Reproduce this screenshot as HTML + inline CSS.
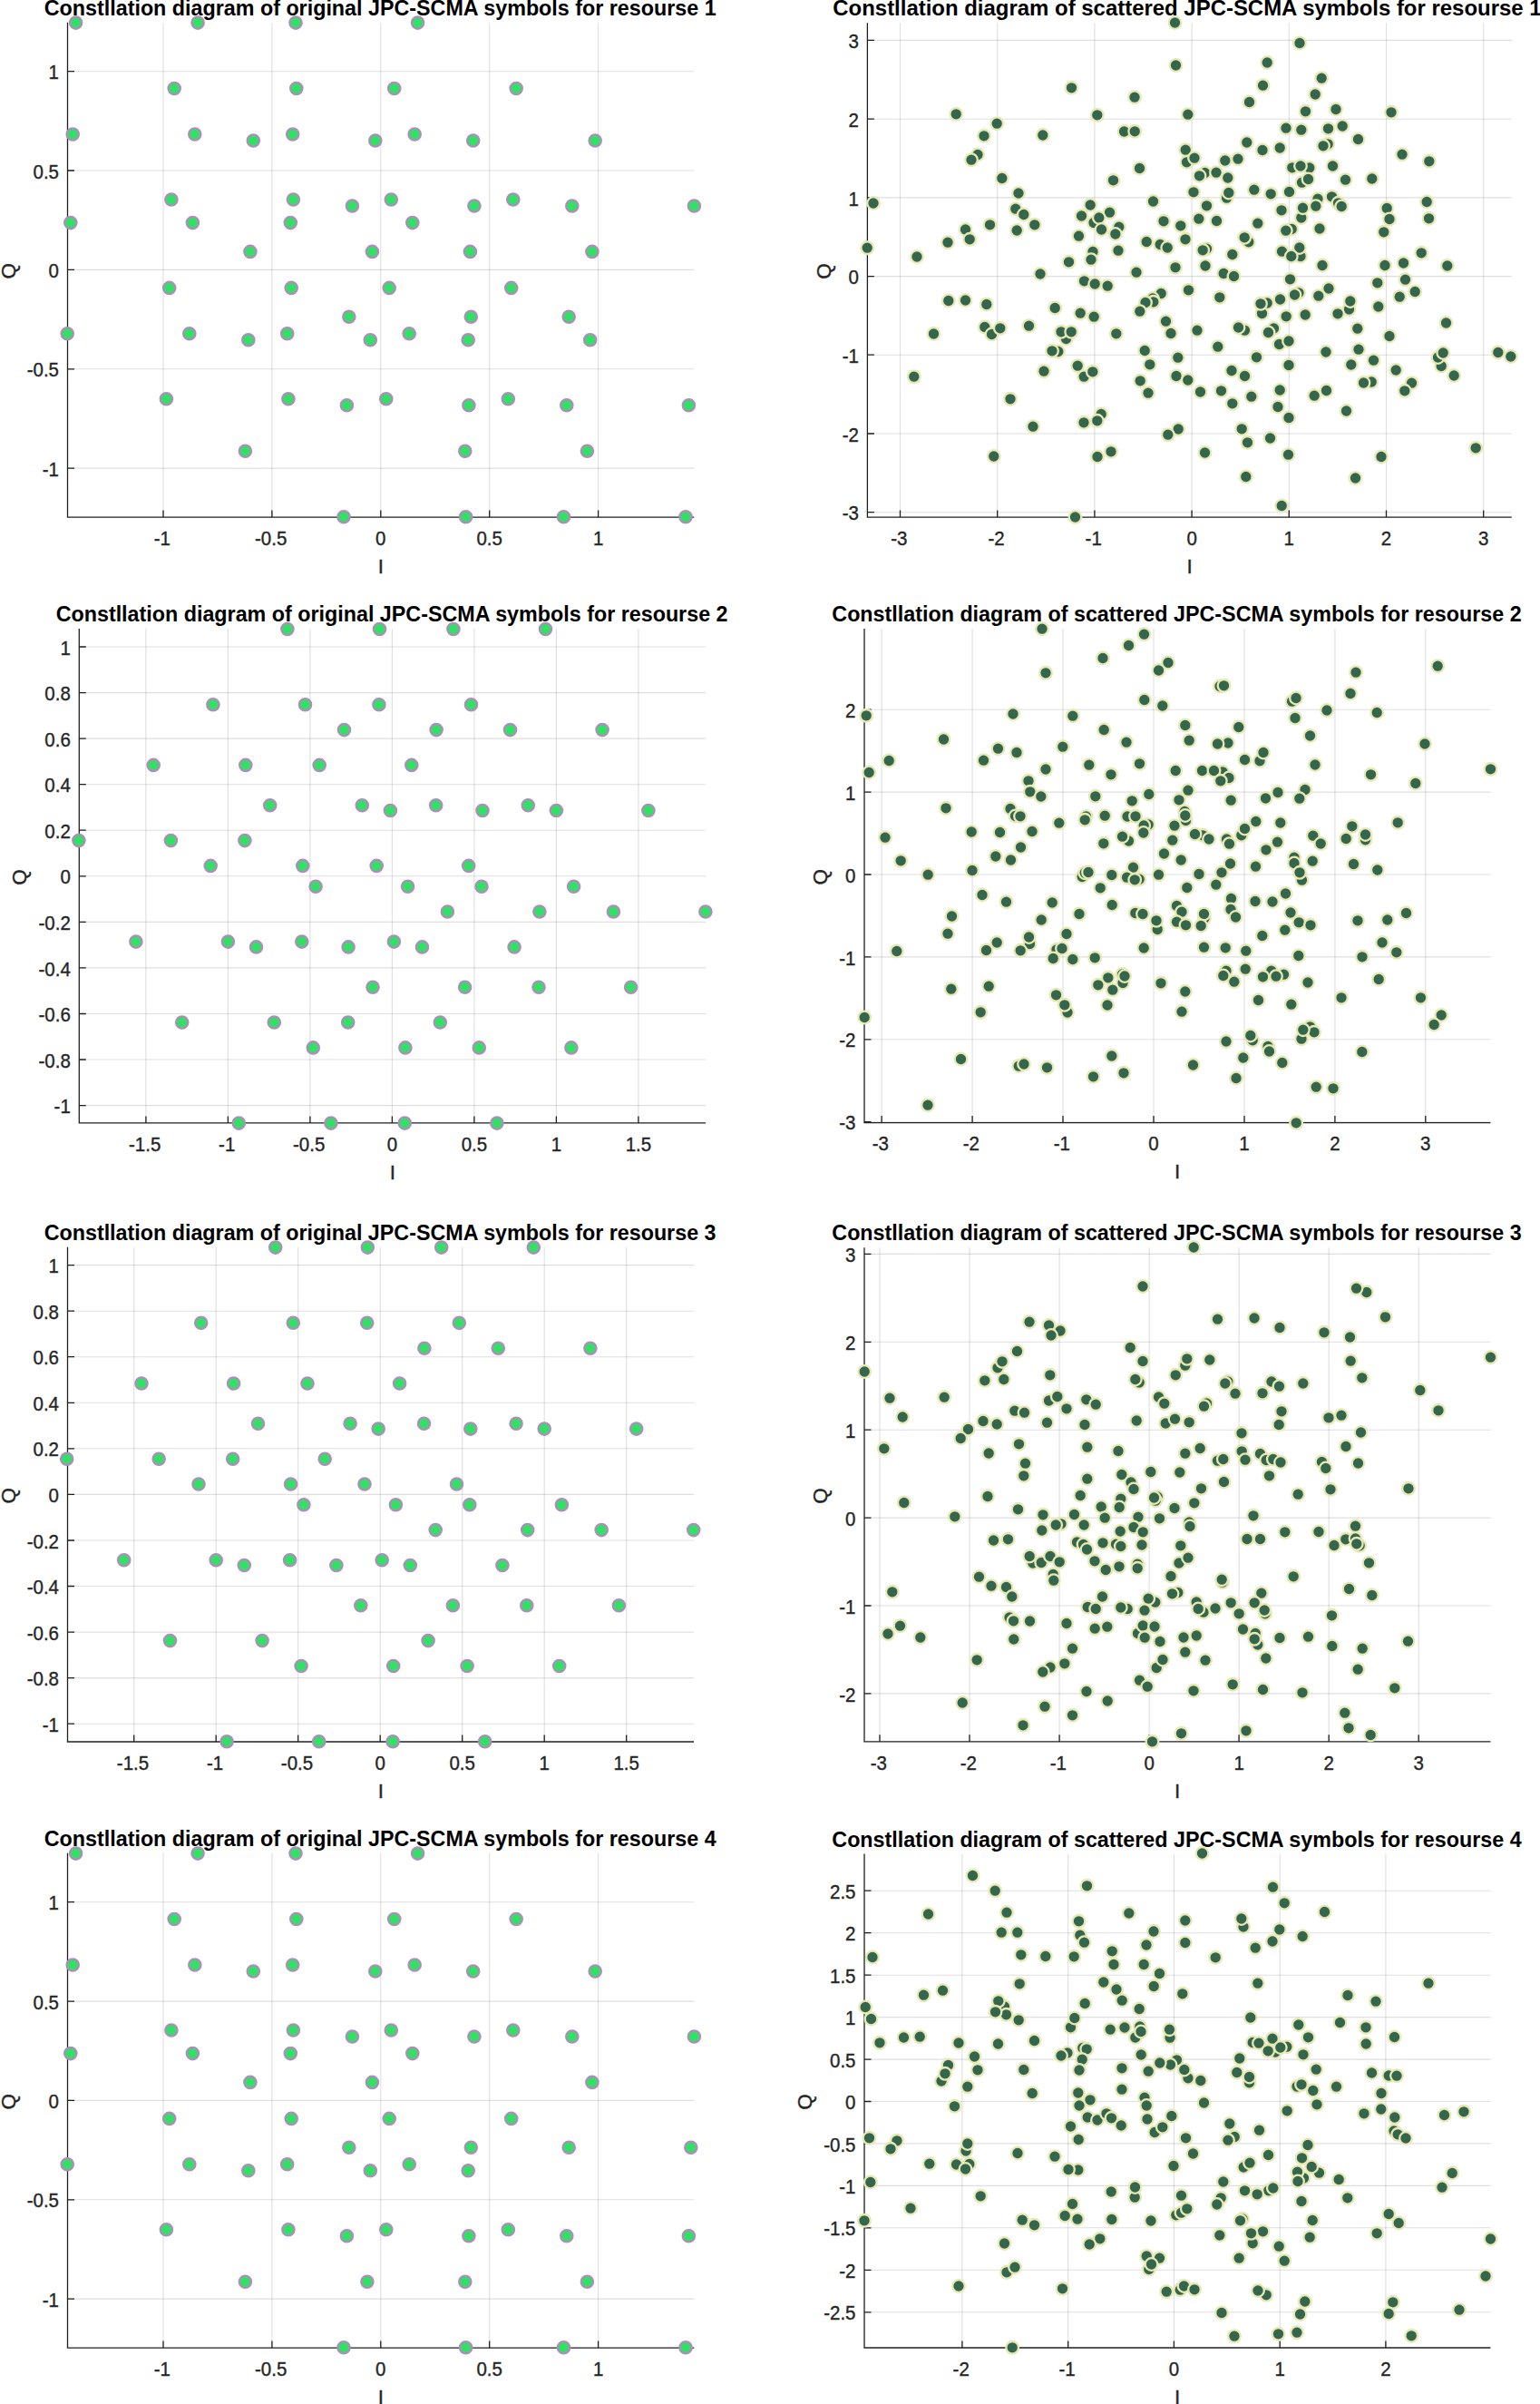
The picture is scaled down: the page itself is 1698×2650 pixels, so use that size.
<!DOCTYPE html>
<html><head><meta charset="utf-8"><title>Constellation diagrams</title>
<style>
html,body{margin:0;padding:0;background:#fff}
svg{display:block}
text{font-family:"Liberation Sans",Arial,Helvetica,sans-serif;fill:#262626}
.tk{font-size:20.5px;stroke:#262626;stroke-width:.35px}
.lb{font-size:22.5px;stroke:#262626;stroke-width:.35px}
.tt{font-size:23.3px;font-weight:bold;fill:#000}
.g{stroke:#262626;stroke-opacity:.15;stroke-width:1.1;fill:none}
.ax{stroke:#202020;stroke-width:1.3;fill:none}
.o circle{fill:#33e066;stroke:#b08cbc;stroke-width:2.3}
.s circle{fill:#33664c;stroke:#e8e8b4;stroke-width:2.3}
</style></head><body>
<svg width="1698" height="2650" viewBox="0 0 1698 2650">
<rect width="1698" height="2650" fill="#fff"/>
<g id="L1">
<path class="g" d="M180.0 24.7V570.1M299.9 24.7V570.1M419.8 24.7V570.1M539.7 24.7V570.1M659.6 24.7V570.1"/><path class="g" d="M74.5 516.1H765.3M74.5 406.8H765.3M74.5 297.4H765.3M74.5 188.0H765.3M74.5 78.7H765.3"/>
<path class="ax" d="M74.5 24.7V570.1H765.3M180.0 570.1v-7.5M299.9 570.1v-7.5M419.8 570.1v-7.5M539.7 570.1v-7.5M659.6 570.1v-7.5M74.5 516.1h7.5M74.5 406.8h7.5M74.5 297.4h7.5M74.5 188.0h7.5M74.5 78.7h7.5"/>
<text class="tk" transform="translate(178.8 600.9) scale(1 1.05)" text-anchor="middle">-1</text>
<text class="tk" transform="translate(298.7 600.9) scale(1 1.05)" text-anchor="middle">-0.5</text>
<text class="tk" transform="translate(419.8 600.9) scale(1 1.05)" text-anchor="middle">0</text>
<text class="tk" transform="translate(539.7 600.9) scale(1 1.05)" text-anchor="middle">0.5</text>
<text class="tk" transform="translate(659.6 600.9) scale(1 1.05)" text-anchor="middle">1</text>
<text class="tk" transform="translate(65.0 524.7) scale(1 1.05)" text-anchor="end">-1</text>
<text class="tk" transform="translate(65.0 415.4) scale(1 1.05)" text-anchor="end">-0.5</text>
<text class="tk" transform="translate(65.0 306.0) scale(1 1.05)" text-anchor="end">0</text>
<text class="tk" transform="translate(65.0 196.6) scale(1 1.05)" text-anchor="end">0.5</text>
<text class="tk" transform="translate(65.0 87.3) scale(1 1.05)" text-anchor="end">1</text>
<text class="lb" x="419.9" y="631.8" text-anchor="middle">I</text>
<text class="lb" transform="translate(16.5 298.8) rotate(-90)" text-anchor="middle">Q</text>
<text class="tt" x="419.2" y="16.9" text-anchor="middle">Constllation diagram of original JPC-SCMA symbols for resourse 1</text>
<g class="o"><circle cx="83.6" cy="25.1" r="6.65"/><circle cx="218.1" cy="25.1" r="6.65"/><circle cx="326.0" cy="25.1" r="6.65"/><circle cx="460.6" cy="25.1" r="6.65"/><circle cx="192.2" cy="97.5" r="6.65"/><circle cx="326.8" cy="97.5" r="6.65"/><circle cx="434.7" cy="97.5" r="6.65"/><circle cx="569.2" cy="97.5" r="6.65"/><circle cx="80.2" cy="148.0" r="6.65"/><circle cx="214.8" cy="148.0" r="6.65"/><circle cx="322.7" cy="148.0" r="6.65"/><circle cx="457.2" cy="148.0" r="6.65"/><circle cx="279.3" cy="155.0" r="6.65"/><circle cx="413.8" cy="155.0" r="6.65"/><circle cx="521.7" cy="155.0" r="6.65"/><circle cx="656.2" cy="155.0" r="6.65"/><circle cx="188.9" cy="220.0" r="6.65"/><circle cx="323.4" cy="220.0" r="6.65"/><circle cx="431.3" cy="220.0" r="6.65"/><circle cx="565.8" cy="220.0" r="6.65"/><circle cx="388.4" cy="227.0" r="6.65"/><circle cx="522.9" cy="227.0" r="6.65"/><circle cx="630.8" cy="227.0" r="6.65"/><circle cx="765.4" cy="227.0" r="6.65"/><circle cx="77.8" cy="245.6" r="6.65"/><circle cx="212.4" cy="245.6" r="6.65"/><circle cx="320.3" cy="245.6" r="6.65"/><circle cx="454.8" cy="245.6" r="6.65"/><circle cx="275.9" cy="277.4" r="6.65"/><circle cx="410.4" cy="277.4" r="6.65"/><circle cx="518.4" cy="277.4" r="6.65"/><circle cx="652.9" cy="277.4" r="6.65"/><circle cx="379.0" cy="569.7" r="6.65"/><circle cx="513.6" cy="569.7" r="6.65"/><circle cx="621.5" cy="569.7" r="6.65"/><circle cx="756.0" cy="569.7" r="6.65"/><circle cx="270.4" cy="497.3" r="6.65"/><circle cx="512.8" cy="497.3" r="6.65"/><circle cx="647.4" cy="497.3" r="6.65"/><circle cx="382.4" cy="446.8" r="6.65"/><circle cx="516.9" cy="446.8" r="6.65"/><circle cx="624.8" cy="446.8" r="6.65"/><circle cx="759.4" cy="446.8" r="6.65"/><circle cx="183.4" cy="439.8" r="6.65"/><circle cx="317.9" cy="439.8" r="6.65"/><circle cx="425.8" cy="439.8" r="6.65"/><circle cx="560.3" cy="439.8" r="6.65"/><circle cx="273.8" cy="374.8" r="6.65"/><circle cx="408.3" cy="374.8" r="6.65"/><circle cx="516.2" cy="374.8" r="6.65"/><circle cx="650.7" cy="374.8" r="6.65"/><circle cx="74.2" cy="367.8" r="6.65"/><circle cx="208.8" cy="367.8" r="6.65"/><circle cx="316.7" cy="367.8" r="6.65"/><circle cx="451.2" cy="367.8" r="6.65"/><circle cx="384.8" cy="349.2" r="6.65"/><circle cx="519.3" cy="349.2" r="6.65"/><circle cx="627.2" cy="349.2" r="6.65"/><circle cx="186.7" cy="317.4" r="6.65"/><circle cx="321.2" cy="317.4" r="6.65"/><circle cx="429.2" cy="317.4" r="6.65"/><circle cx="563.7" cy="317.4" r="6.65"/></g>
</g>
<g id="R1">
<path class="g" d="M992.5 25.3V570.1M1099.7 25.3V570.1M1206.9 25.3V570.1M1314.1 25.3V570.1M1421.3 25.3V570.1M1528.5 25.3V570.1M1635.7 25.3V570.1"/><path class="g" d="M956.4 564.7H1666.8M956.4 478.0H1666.8M956.4 391.2H1666.8M956.4 304.6H1666.8M956.4 217.9H1666.8M956.4 131.2H1666.8M956.4 44.4H1666.8"/>
<path class="ax" d="M956.4 25.3V570.1H1666.8M992.5 570.1v-7.5M1099.7 570.1v-7.5M1206.9 570.1v-7.5M1314.1 570.1v-7.5M1421.3 570.1v-7.5M1528.5 570.1v-7.5M1635.7 570.1v-7.5M956.4 564.7h7.5M956.4 478.0h7.5M956.4 391.2h7.5M956.4 304.6h7.5M956.4 217.9h7.5M956.4 131.2h7.5M956.4 44.4h7.5"/>
<text class="tk" transform="translate(991.3 600.9) scale(1 1.05)" text-anchor="middle">-3</text>
<text class="tk" transform="translate(1098.5 600.9) scale(1 1.05)" text-anchor="middle">-2</text>
<text class="tk" transform="translate(1205.7 600.9) scale(1 1.05)" text-anchor="middle">-1</text>
<text class="tk" transform="translate(1314.1 600.9) scale(1 1.05)" text-anchor="middle">0</text>
<text class="tk" transform="translate(1421.3 600.9) scale(1 1.05)" text-anchor="middle">1</text>
<text class="tk" transform="translate(1528.5 600.9) scale(1 1.05)" text-anchor="middle">2</text>
<text class="tk" transform="translate(1635.7 600.9) scale(1 1.05)" text-anchor="middle">3</text>
<text class="tk" transform="translate(946.9 573.3) scale(1 1.05)" text-anchor="end">-3</text>
<text class="tk" transform="translate(946.9 486.6) scale(1 1.05)" text-anchor="end">-2</text>
<text class="tk" transform="translate(946.9 399.9) scale(1 1.05)" text-anchor="end">-1</text>
<text class="tk" transform="translate(946.9 313.2) scale(1 1.05)" text-anchor="end">0</text>
<text class="tk" transform="translate(946.9 226.5) scale(1 1.05)" text-anchor="end">1</text>
<text class="tk" transform="translate(946.9 139.8) scale(1 1.05)" text-anchor="end">2</text>
<text class="tk" transform="translate(946.9 53.0) scale(1 1.05)" text-anchor="end">3</text>
<text class="lb" x="1311.6" y="631.8" text-anchor="middle">I</text>
<text class="lb" transform="translate(915.5 299.1) rotate(-90)" text-anchor="middle">Q</text>
<text class="tt" style="font-size:23.95px" x="918.3" y="16.7">Constllation diagram of scattered JPC-SCMA symbols for resourse 1</text>
<g class="s"><circle cx="1295.5" cy="25.0" r="6.8"/><circle cx="1296.5" cy="72.0" r="6.8"/><circle cx="1181.5" cy="96.8" r="6.8"/><circle cx="1251.0" cy="107.2" r="6.8"/><circle cx="1054.2" cy="125.8" r="6.8"/><circle cx="1209.8" cy="126.8" r="6.8"/><circle cx="1309.8" cy="126.2" r="6.8"/><circle cx="1099.2" cy="136.2" r="6.8"/><circle cx="1085.0" cy="149.8" r="6.8"/><circle cx="1149.8" cy="149.0" r="6.8"/><circle cx="1239.5" cy="145.0" r="6.8"/><circle cx="1251.2" cy="144.8" r="6.8"/><circle cx="1078.0" cy="170.5" r="6.8"/><circle cx="1071.0" cy="176.2" r="6.8"/><circle cx="1307.2" cy="165.2" r="6.8"/><circle cx="1308.5" cy="178.8" r="6.8"/><circle cx="1256.5" cy="185.5" r="6.8"/><circle cx="1104.8" cy="196.5" r="6.8"/><circle cx="1227.5" cy="198.8" r="6.8"/><circle cx="1123.0" cy="213.0" r="6.8"/><circle cx="963.0" cy="224.0" r="6.8"/><circle cx="1271.5" cy="222.0" r="6.8"/><circle cx="1202.2" cy="226.0" r="6.8"/><circle cx="1119.8" cy="230.2" r="6.8"/><circle cx="1128.8" cy="236.5" r="6.8"/><circle cx="1223.5" cy="234.2" r="6.8"/><circle cx="1192.5" cy="238.0" r="6.8"/><circle cx="1206.0" cy="245.5" r="6.8"/><circle cx="1211.8" cy="240.0" r="6.8"/><circle cx="1283.0" cy="243.8" r="6.8"/><circle cx="1091.5" cy="247.8" r="6.8"/><circle cx="1140.8" cy="247.8" r="6.8"/><circle cx="1301.8" cy="248.8" r="6.8"/><circle cx="1233.8" cy="250.2" r="6.8"/><circle cx="1064.5" cy="253.0" r="6.8"/><circle cx="1121.2" cy="254.0" r="6.8"/><circle cx="1214.5" cy="253.0" r="6.8"/><circle cx="1229.8" cy="258.0" r="6.8"/><circle cx="1189.5" cy="260.2" r="6.8"/><circle cx="1069.2" cy="263.8" r="6.8"/><circle cx="1307.0" cy="263.8" r="6.8"/><circle cx="1045.0" cy="267.2" r="6.8"/><circle cx="1264.2" cy="266.5" r="6.8"/><circle cx="1279.2" cy="269.5" r="6.8"/><circle cx="1287.2" cy="273.0" r="6.8"/><circle cx="956.2" cy="273.2" r="6.8"/><circle cx="1205.0" cy="277.5" r="6.8"/><circle cx="1233.0" cy="276.2" r="6.8"/><circle cx="1011.0" cy="283.0" r="6.8"/><circle cx="1203.0" cy="286.2" r="6.8"/><circle cx="1178.5" cy="288.8" r="6.8"/><circle cx="1433.0" cy="47.5" r="6.8"/><circle cx="1397.2" cy="69.0" r="6.8"/><circle cx="1457.2" cy="86.2" r="6.8"/><circle cx="1392.5" cy="94.2" r="6.8"/><circle cx="1450.2" cy="104.0" r="6.8"/><circle cx="1377.5" cy="112.5" r="6.8"/><circle cx="1473.0" cy="120.5" r="6.8"/><circle cx="1439.5" cy="122.8" r="6.8"/><circle cx="1534.0" cy="123.8" r="6.8"/><circle cx="1418.0" cy="141.2" r="6.8"/><circle cx="1434.8" cy="143.2" r="6.8"/><circle cx="1464.5" cy="141.8" r="6.8"/><circle cx="1480.2" cy="139.0" r="6.8"/><circle cx="1497.5" cy="153.5" r="6.8"/><circle cx="1374.8" cy="157.0" r="6.8"/><circle cx="1464.2" cy="158.8" r="6.8"/><circle cx="1459.0" cy="160.8" r="6.8"/><circle cx="1392.0" cy="165.5" r="6.8"/><circle cx="1411.2" cy="163.0" r="6.8"/><circle cx="1546.0" cy="170.2" r="6.8"/><circle cx="1575.8" cy="177.8" r="6.8"/><circle cx="1317.0" cy="174.2" r="6.8"/><circle cx="1365.0" cy="175.2" r="6.8"/><circle cx="1350.8" cy="177.0" r="6.8"/><circle cx="1469.5" cy="183.0" r="6.8"/><circle cx="1424.8" cy="184.8" r="6.8"/><circle cx="1443.8" cy="185.0" r="6.8"/><circle cx="1434.0" cy="183.0" r="6.8"/><circle cx="1328.5" cy="190.5" r="6.8"/><circle cx="1322.5" cy="193.8" r="6.8"/><circle cx="1341.0" cy="190.2" r="6.8"/><circle cx="1353.8" cy="196.0" r="6.8"/><circle cx="1435.5" cy="201.2" r="6.8"/><circle cx="1442.5" cy="197.5" r="6.8"/><circle cx="1483.5" cy="198.2" r="6.8"/><circle cx="1512.8" cy="197.0" r="6.8"/><circle cx="1316.0" cy="211.8" r="6.8"/><circle cx="1352.5" cy="218.2" r="6.8"/><circle cx="1354.8" cy="212.5" r="6.8"/><circle cx="1382.8" cy="209.2" r="6.8"/><circle cx="1401.2" cy="213.8" r="6.8"/><circle cx="1421.5" cy="211.5" r="6.8"/><circle cx="1453.0" cy="219.2" r="6.8"/><circle cx="1450.8" cy="227.2" r="6.8"/><circle cx="1468.5" cy="216.8" r="6.8"/><circle cx="1475.5" cy="223.8" r="6.8"/><circle cx="1479.2" cy="227.5" r="6.8"/><circle cx="1573.2" cy="222.5" r="6.8"/><circle cx="1330.5" cy="226.8" r="6.8"/><circle cx="1413.0" cy="231.8" r="6.8"/><circle cx="1434.8" cy="240.0" r="6.8"/><circle cx="1436.5" cy="229.2" r="6.8"/><circle cx="1529.2" cy="229.5" r="6.8"/><circle cx="1532.0" cy="241.5" r="6.8"/><circle cx="1575.5" cy="240.8" r="6.8"/><circle cx="1321.8" cy="241.2" r="6.8"/><circle cx="1341.5" cy="243.5" r="6.8"/><circle cx="1386.8" cy="246.2" r="6.8"/><circle cx="1424.2" cy="252.5" r="6.8"/><circle cx="1417.8" cy="254.2" r="6.8"/><circle cx="1455.0" cy="252.0" r="6.8"/><circle cx="1525.8" cy="255.8" r="6.8"/><circle cx="1376.8" cy="266.8" r="6.8"/><circle cx="1372.2" cy="261.8" r="6.8"/><circle cx="1330.5" cy="274.2" r="6.8"/><circle cx="1326.2" cy="275.8" r="6.8"/><circle cx="1358.8" cy="280.5" r="6.8"/><circle cx="1413.5" cy="277.2" r="6.8"/><circle cx="1434.0" cy="282.5" r="6.8"/><circle cx="1432.8" cy="273.0" r="6.8"/><circle cx="1423.8" cy="282.5" r="6.8"/><circle cx="1567.2" cy="278.8" r="6.8"/><circle cx="1147.0" cy="302.0" r="6.8"/><circle cx="1253.0" cy="300.2" r="6.8"/><circle cx="1296.0" cy="294.8" r="6.8"/><circle cx="1195.5" cy="309.8" r="6.8"/><circle cx="1207.2" cy="313.0" r="6.8"/><circle cx="1221.2" cy="315.2" r="6.8"/><circle cx="1280.2" cy="323.5" r="6.8"/><circle cx="1271.0" cy="329.0" r="6.8"/><circle cx="1271.8" cy="332.8" r="6.8"/><circle cx="1263.0" cy="333.5" r="6.8"/><circle cx="1045.8" cy="331.5" r="6.8"/><circle cx="1064.5" cy="331.0" r="6.8"/><circle cx="1087.8" cy="335.5" r="6.8"/><circle cx="1163.2" cy="339.5" r="6.8"/><circle cx="1256.8" cy="343.2" r="6.8"/><circle cx="1191.2" cy="345.2" r="6.8"/><circle cx="1206.2" cy="349.2" r="6.8"/><circle cx="1285.5" cy="354.2" r="6.8"/><circle cx="1134.5" cy="359.2" r="6.8"/><circle cx="1085.8" cy="360.5" r="6.8"/><circle cx="1093.5" cy="368.5" r="6.8"/><circle cx="1102.8" cy="361.8" r="6.8"/><circle cx="1175.5" cy="373.5" r="6.8"/><circle cx="1170.0" cy="365.8" r="6.8"/><circle cx="1181.2" cy="365.8" r="6.8"/><circle cx="1230.8" cy="367.8" r="6.8"/><circle cx="1291.0" cy="367.5" r="6.8"/><circle cx="1029.5" cy="368.0" r="6.8"/><circle cx="1262.2" cy="386.5" r="6.8"/><circle cx="1166.8" cy="387.5" r="6.8"/><circle cx="1160.0" cy="386.8" r="6.8"/><circle cx="1298.8" cy="394.2" r="6.8"/><circle cx="1267.8" cy="401.8" r="6.8"/><circle cx="1188.2" cy="403.2" r="6.8"/><circle cx="1151.0" cy="409.2" r="6.8"/><circle cx="1195.2" cy="415.2" r="6.8"/><circle cx="1204.8" cy="409.8" r="6.8"/><circle cx="1297.0" cy="414.5" r="6.8"/><circle cx="1257.2" cy="419.8" r="6.8"/><circle cx="1007.8" cy="415.2" r="6.8"/><circle cx="1266.0" cy="433.2" r="6.8"/><circle cx="1114.0" cy="439.8" r="6.8"/><circle cx="1214.2" cy="456.5" r="6.8"/><circle cx="1209.8" cy="463.8" r="6.8"/><circle cx="1195.0" cy="465.8" r="6.8"/><circle cx="1139.0" cy="470.2" r="6.8"/><circle cx="1299.2" cy="473.0" r="6.8"/><circle cx="1287.8" cy="479.2" r="6.8"/><circle cx="1225.0" cy="497.8" r="6.8"/><circle cx="1210.0" cy="503.5" r="6.8"/><circle cx="1095.8" cy="503.0" r="6.8"/><circle cx="1185.5" cy="570.0" r="6.8"/><circle cx="1329.0" cy="293.0" r="6.8"/><circle cx="1458.0" cy="292.5" r="6.8"/><circle cx="1527.0" cy="292.5" r="6.8"/><circle cx="1547.5" cy="290.0" r="6.8"/><circle cx="1595.8" cy="293.0" r="6.8"/><circle cx="1349.2" cy="301.5" r="6.8"/><circle cx="1360.5" cy="304.5" r="6.8"/><circle cx="1422.5" cy="307.8" r="6.8"/><circle cx="1518.8" cy="311.8" r="6.8"/><circle cx="1549.5" cy="308.2" r="6.8"/><circle cx="1310.5" cy="319.8" r="6.8"/><circle cx="1465.0" cy="318.0" r="6.8"/><circle cx="1560.2" cy="321.5" r="6.8"/><circle cx="1344.8" cy="327.8" r="6.8"/><circle cx="1432.0" cy="322.8" r="6.8"/><circle cx="1427.5" cy="325.0" r="6.8"/><circle cx="1453.8" cy="326.2" r="6.8"/><circle cx="1543.2" cy="327.2" r="6.8"/><circle cx="1411.5" cy="330.0" r="6.8"/><circle cx="1397.2" cy="334.0" r="6.8"/><circle cx="1391.5" cy="345.5" r="6.8"/><circle cx="1390.0" cy="334.8" r="6.8"/><circle cx="1487.5" cy="341.0" r="6.8"/><circle cx="1488.8" cy="332.0" r="6.8"/><circle cx="1519.8" cy="338.0" r="6.8"/><circle cx="1418.2" cy="348.8" r="6.8"/><circle cx="1439.2" cy="347.0" r="6.8"/><circle cx="1475.0" cy="345.8" r="6.8"/><circle cx="1594.5" cy="356.0" r="6.8"/><circle cx="1320.0" cy="364.2" r="6.8"/><circle cx="1372.5" cy="364.2" r="6.8"/><circle cx="1365.5" cy="361.0" r="6.8"/><circle cx="1404.5" cy="362.0" r="6.8"/><circle cx="1398.5" cy="366.5" r="6.8"/><circle cx="1496.8" cy="362.2" r="6.8"/><circle cx="1532.0" cy="370.5" r="6.8"/><circle cx="1410.5" cy="379.5" r="6.8"/><circle cx="1421.0" cy="376.0" r="6.8"/><circle cx="1342.8" cy="382.2" r="6.8"/><circle cx="1498.0" cy="385.2" r="6.8"/><circle cx="1462.0" cy="388.0" r="6.8"/><circle cx="1385.5" cy="393.8" r="6.8"/><circle cx="1651.8" cy="388.5" r="6.8"/><circle cx="1665.8" cy="393.0" r="6.8"/><circle cx="1589.2" cy="403.5" r="6.8"/><circle cx="1585.5" cy="394.0" r="6.8"/><circle cx="1591.2" cy="389.0" r="6.8"/><circle cx="1514.5" cy="397.2" r="6.8"/><circle cx="1489.8" cy="402.0" r="6.8"/><circle cx="1421.0" cy="402.5" r="6.8"/><circle cx="1358.0" cy="408.5" r="6.8"/><circle cx="1539.2" cy="408.0" r="6.8"/><circle cx="1603.2" cy="414.0" r="6.8"/><circle cx="1372.5" cy="414.5" r="6.8"/><circle cx="1309.8" cy="419.0" r="6.8"/><circle cx="1512.2" cy="421.0" r="6.8"/><circle cx="1503.5" cy="422.0" r="6.8"/><circle cx="1556.5" cy="422.2" r="6.8"/><circle cx="1548.8" cy="430.8" r="6.8"/><circle cx="1411.2" cy="430.0" r="6.8"/><circle cx="1462.5" cy="430.5" r="6.8"/><circle cx="1449.2" cy="436.2" r="6.8"/><circle cx="1323.5" cy="432.0" r="6.8"/><circle cx="1346.5" cy="430.8" r="6.8"/><circle cx="1379.8" cy="437.2" r="6.8"/><circle cx="1358.8" cy="444.8" r="6.8"/><circle cx="1409.0" cy="448.5" r="6.8"/><circle cx="1484.5" cy="453.0" r="6.8"/><circle cx="1421.0" cy="460.5" r="6.8"/><circle cx="1369.2" cy="472.8" r="6.8"/><circle cx="1400.5" cy="483.0" r="6.8"/><circle cx="1375.5" cy="487.8" r="6.8"/><circle cx="1627.2" cy="493.8" r="6.8"/><circle cx="1328.5" cy="499.0" r="6.8"/><circle cx="1420.5" cy="501.2" r="6.8"/><circle cx="1523.0" cy="503.5" r="6.8"/><circle cx="1373.8" cy="525.5" r="6.8"/><circle cx="1494.5" cy="527.0" r="6.8"/><circle cx="1413.2" cy="557.5" r="6.8"/></g>
</g>
<g id="L2">
<path class="g" d="M160.9 693.1V1237.9M251.4 693.1V1237.9M341.9 693.1V1237.9M432.4 693.1V1237.9M522.9 693.1V1237.9M613.4 693.1V1237.9M703.9 693.1V1237.9"/><path class="g" d="M87.3 1218.6H778.2M87.3 1168.0H778.2M87.3 1117.5H778.2M87.3 1066.9H778.2M87.3 1016.4H778.2M87.3 965.8H778.2M87.3 915.2H778.2M87.3 864.7H778.2M87.3 814.1H778.2M87.3 763.6H778.2M87.3 713.0H778.2"/>
<path class="ax" d="M87.3 693.1V1237.9H778.2M160.9 1237.9v-7.5M251.4 1237.9v-7.5M341.9 1237.9v-7.5M432.4 1237.9v-7.5M522.9 1237.9v-7.5M613.4 1237.9v-7.5M703.9 1237.9v-7.5M87.3 1218.6h7.5M87.3 1168.0h7.5M87.3 1117.5h7.5M87.3 1066.9h7.5M87.3 1016.4h7.5M87.3 965.8h7.5M87.3 915.2h7.5M87.3 864.7h7.5M87.3 814.1h7.5M87.3 763.6h7.5M87.3 713.0h7.5"/>
<text class="tk" transform="translate(159.7 1268.7) scale(1 1.05)" text-anchor="middle">-1.5</text>
<text class="tk" transform="translate(250.2 1268.7) scale(1 1.05)" text-anchor="middle">-1</text>
<text class="tk" transform="translate(340.7 1268.7) scale(1 1.05)" text-anchor="middle">-0.5</text>
<text class="tk" transform="translate(432.4 1268.7) scale(1 1.05)" text-anchor="middle">0</text>
<text class="tk" transform="translate(522.9 1268.7) scale(1 1.05)" text-anchor="middle">0.5</text>
<text class="tk" transform="translate(613.4 1268.7) scale(1 1.05)" text-anchor="middle">1</text>
<text class="tk" transform="translate(703.9 1268.7) scale(1 1.05)" text-anchor="middle">1.5</text>
<text class="tk" transform="translate(77.8 1227.2) scale(1 1.05)" text-anchor="end">-1</text>
<text class="tk" transform="translate(77.8 1176.6) scale(1 1.05)" text-anchor="end">-0.8</text>
<text class="tk" transform="translate(77.8 1126.1) scale(1 1.05)" text-anchor="end">-0.6</text>
<text class="tk" transform="translate(77.8 1075.5) scale(1 1.05)" text-anchor="end">-0.4</text>
<text class="tk" transform="translate(77.8 1025.0) scale(1 1.05)" text-anchor="end">-0.2</text>
<text class="tk" transform="translate(77.8 974.4) scale(1 1.05)" text-anchor="end">0</text>
<text class="tk" transform="translate(77.8 923.8) scale(1 1.05)" text-anchor="end">0.2</text>
<text class="tk" transform="translate(77.8 873.3) scale(1 1.05)" text-anchor="end">0.4</text>
<text class="tk" transform="translate(77.8 822.7) scale(1 1.05)" text-anchor="end">0.6</text>
<text class="tk" transform="translate(77.8 772.2) scale(1 1.05)" text-anchor="end">0.8</text>
<text class="tk" transform="translate(77.8 721.6) scale(1 1.05)" text-anchor="end">1</text>
<text class="lb" x="432.8" y="1299.6" text-anchor="middle">I</text>
<text class="lb" transform="translate(29.3 966.9) rotate(-90)" text-anchor="middle">Q</text>
<text class="tt" x="432.1" y="685.3" text-anchor="middle">Constllation diagram of original JPC-SCMA symbols for resourse 2</text>
<g class="o"><circle cx="316.9" cy="693.5" r="6.65"/><circle cx="418.5" cy="693.5" r="6.65"/><circle cx="499.9" cy="693.5" r="6.65"/><circle cx="601.5" cy="693.5" r="6.65"/><circle cx="234.9" cy="776.7" r="6.65"/><circle cx="336.5" cy="776.7" r="6.65"/><circle cx="417.9" cy="776.7" r="6.65"/><circle cx="519.5" cy="776.7" r="6.65"/><circle cx="379.5" cy="804.6" r="6.65"/><circle cx="481.1" cy="804.6" r="6.65"/><circle cx="562.5" cy="804.6" r="6.65"/><circle cx="664.1" cy="804.6" r="6.65"/><circle cx="169.2" cy="843.4" r="6.65"/><circle cx="270.8" cy="843.4" r="6.65"/><circle cx="352.2" cy="843.4" r="6.65"/><circle cx="453.8" cy="843.4" r="6.65"/><circle cx="297.7" cy="887.7" r="6.65"/><circle cx="399.3" cy="887.7" r="6.65"/><circle cx="480.7" cy="887.7" r="6.65"/><circle cx="582.3" cy="887.7" r="6.65"/><circle cx="430.4" cy="893.5" r="6.65"/><circle cx="532.0" cy="893.5" r="6.65"/><circle cx="613.4" cy="893.5" r="6.65"/><circle cx="714.9" cy="893.5" r="6.65"/><circle cx="86.9" cy="926.6" r="6.65"/><circle cx="188.4" cy="926.6" r="6.65"/><circle cx="269.9" cy="926.6" r="6.65"/><circle cx="232.2" cy="954.4" r="6.65"/><circle cx="333.8" cy="954.4" r="6.65"/><circle cx="415.2" cy="954.4" r="6.65"/><circle cx="516.7" cy="954.4" r="6.65"/><circle cx="263.3" cy="1238.1" r="6.65"/><circle cx="364.9" cy="1238.1" r="6.65"/><circle cx="446.3" cy="1238.1" r="6.65"/><circle cx="547.9" cy="1238.1" r="6.65"/><circle cx="345.3" cy="1154.9" r="6.65"/><circle cx="446.9" cy="1154.9" r="6.65"/><circle cx="528.3" cy="1154.9" r="6.65"/><circle cx="629.9" cy="1154.9" r="6.65"/><circle cx="200.7" cy="1127.0" r="6.65"/><circle cx="302.3" cy="1127.0" r="6.65"/><circle cx="383.7" cy="1127.0" r="6.65"/><circle cx="485.3" cy="1127.0" r="6.65"/><circle cx="411.0" cy="1088.2" r="6.65"/><circle cx="512.6" cy="1088.2" r="6.65"/><circle cx="594.0" cy="1088.2" r="6.65"/><circle cx="695.6" cy="1088.2" r="6.65"/><circle cx="282.5" cy="1043.9" r="6.65"/><circle cx="384.1" cy="1043.9" r="6.65"/><circle cx="465.5" cy="1043.9" r="6.65"/><circle cx="567.1" cy="1043.9" r="6.65"/><circle cx="149.9" cy="1038.1" r="6.65"/><circle cx="251.4" cy="1038.1" r="6.65"/><circle cx="332.8" cy="1038.1" r="6.65"/><circle cx="434.4" cy="1038.1" r="6.65"/><circle cx="493.4" cy="1005.0" r="6.65"/><circle cx="594.9" cy="1005.0" r="6.65"/><circle cx="676.4" cy="1005.0" r="6.65"/><circle cx="777.9" cy="1005.0" r="6.65"/><circle cx="348.1" cy="977.2" r="6.65"/><circle cx="449.6" cy="977.2" r="6.65"/><circle cx="531.0" cy="977.2" r="6.65"/><circle cx="632.6" cy="977.2" r="6.65"/></g>
</g>
<g id="R2">
<path class="g" d="M972.1 693.0V1237.6M1072.1 693.0V1237.6M1172.0 693.0V1237.6M1272.0 693.0V1237.6M1372.0 693.0V1237.6M1471.9 693.0V1237.6M1571.8 693.0V1237.6"/><path class="g" d="M953.0 1236.7H1643.5M953.0 1145.8H1643.5M953.0 1054.9H1643.5M953.0 964.0H1643.5M953.0 873.1H1643.5M953.0 782.2H1643.5"/>
<path class="ax" d="M953.0 693.0V1237.6H1643.5M972.1 1237.6v-7.5M1072.1 1237.6v-7.5M1172.0 1237.6v-7.5M1272.0 1237.6v-7.5M1372.0 1237.6v-7.5M1471.9 1237.6v-7.5M1571.8 1237.6v-7.5M953.0 1236.7h7.5M953.0 1145.8h7.5M953.0 1054.9h7.5M953.0 964.0h7.5M953.0 873.1h7.5M953.0 782.2h7.5"/>
<text class="tk" transform="translate(970.9 1268.4) scale(1 1.05)" text-anchor="middle">-3</text>
<text class="tk" transform="translate(1070.9 1268.4) scale(1 1.05)" text-anchor="middle">-2</text>
<text class="tk" transform="translate(1170.8 1268.4) scale(1 1.05)" text-anchor="middle">-1</text>
<text class="tk" transform="translate(1272.0 1268.4) scale(1 1.05)" text-anchor="middle">0</text>
<text class="tk" transform="translate(1372.0 1268.4) scale(1 1.05)" text-anchor="middle">1</text>
<text class="tk" transform="translate(1471.9 1268.4) scale(1 1.05)" text-anchor="middle">2</text>
<text class="tk" transform="translate(1571.8 1268.4) scale(1 1.05)" text-anchor="middle">3</text>
<text class="tk" transform="translate(943.5 1245.3) scale(1 1.05)" text-anchor="end">-3</text>
<text class="tk" transform="translate(943.5 1154.4) scale(1 1.05)" text-anchor="end">-2</text>
<text class="tk" transform="translate(943.5 1063.5) scale(1 1.05)" text-anchor="end">-1</text>
<text class="tk" transform="translate(943.5 972.6) scale(1 1.05)" text-anchor="end">0</text>
<text class="tk" transform="translate(943.5 881.7) scale(1 1.05)" text-anchor="end">1</text>
<text class="tk" transform="translate(943.5 790.8) scale(1 1.05)" text-anchor="end">2</text>
<text class="lb" x="1298.2" y="1299.3" text-anchor="middle">I</text>
<text class="lb" transform="translate(912.1 966.7) rotate(-90)" text-anchor="middle">Q</text>
<text class="tt" x="1297.5" y="685.2" text-anchor="middle">Constllation diagram of scattered JPC-SCMA symbols for resourse 2</text>
<g class="s"><circle cx="1149.0" cy="693.2" r="6.8"/><circle cx="1261.5" cy="699.2" r="6.8"/><circle cx="1244.5" cy="711.5" r="6.8"/><circle cx="1216.0" cy="725.5" r="6.8"/><circle cx="1288.0" cy="730.5" r="6.8"/><circle cx="1277.5" cy="739.0" r="6.8"/><circle cx="1153.0" cy="741.8" r="6.8"/><circle cx="1261.8" cy="771.5" r="6.8"/><circle cx="1281.8" cy="778.0" r="6.8"/><circle cx="955.2" cy="788.8" r="6.8"/><circle cx="1117.0" cy="787.0" r="6.8"/><circle cx="1182.8" cy="789.2" r="6.8"/><circle cx="1217.2" cy="804.5" r="6.8"/><circle cx="1040.5" cy="815.0" r="6.8"/><circle cx="1242.0" cy="818.2" r="6.8"/><circle cx="1171.8" cy="823.2" r="6.8"/><circle cx="1100.5" cy="825.2" r="6.8"/><circle cx="1121.0" cy="829.5" r="6.8"/><circle cx="980.2" cy="838.5" r="6.8"/><circle cx="1084.5" cy="838.2" r="6.8"/><circle cx="1200.8" cy="843.2" r="6.8"/><circle cx="1256.5" cy="841.8" r="6.8"/><circle cx="958.2" cy="851.5" r="6.8"/><circle cx="1153.0" cy="848.0" r="6.8"/><circle cx="1296.2" cy="849.5" r="6.8"/><circle cx="1225.0" cy="853.8" r="6.8"/><circle cx="1134.0" cy="860.8" r="6.8"/><circle cx="1135.8" cy="872.8" r="6.8"/><circle cx="1147.8" cy="878.0" r="6.8"/><circle cx="1207.8" cy="877.8" r="6.8"/><circle cx="1266.8" cy="875.5" r="6.8"/><circle cx="1248.2" cy="882.8" r="6.8"/><circle cx="1300.0" cy="881.8" r="6.8"/><circle cx="1043.0" cy="890.8" r="6.8"/><circle cx="1114.0" cy="891.5" r="6.8"/><circle cx="1119.5" cy="899.5" r="6.8"/><circle cx="1125.0" cy="899.8" r="6.8"/><circle cx="1218.2" cy="899.2" r="6.8"/><circle cx="1243.0" cy="900.0" r="6.8"/><circle cx="1252.0" cy="899.8" r="6.8"/><circle cx="1197.5" cy="900.0" r="6.8"/><circle cx="1196.2" cy="903.8" r="6.8"/><circle cx="1167.8" cy="907.2" r="6.8"/><circle cx="1266.2" cy="909.0" r="6.8"/><circle cx="1261.2" cy="910.0" r="6.8"/><circle cx="1260.8" cy="918.0" r="6.8"/><circle cx="1295.0" cy="910.2" r="6.8"/><circle cx="1071.2" cy="917.0" r="6.8"/><circle cx="1102.5" cy="917.5" r="6.8"/><circle cx="1138.0" cy="916.5" r="6.8"/><circle cx="976.0" cy="923.2" r="6.8"/><circle cx="1244.5" cy="927.0" r="6.8"/><circle cx="1237.5" cy="922.2" r="6.8"/><circle cx="1292.8" cy="926.2" r="6.8"/><circle cx="1216.8" cy="929.8" r="6.8"/><circle cx="1125.5" cy="934.0" r="6.8"/><circle cx="1283.5" cy="941.0" r="6.8"/><circle cx="1097.8" cy="944.0" r="6.8"/><circle cx="1114.5" cy="948.0" r="6.8"/><circle cx="993.2" cy="948.8" r="6.8"/><circle cx="1302.2" cy="948.0" r="6.8"/><circle cx="1249.5" cy="956.2" r="6.8"/><circle cx="1585.2" cy="734.2" r="6.8"/><circle cx="1495.0" cy="741.2" r="6.8"/><circle cx="1345.0" cy="756.5" r="6.8"/><circle cx="1349.5" cy="755.8" r="6.8"/><circle cx="1489.0" cy="764.5" r="6.8"/><circle cx="1424.5" cy="773.2" r="6.8"/><circle cx="1429.0" cy="769.5" r="6.8"/><circle cx="1463.0" cy="783.0" r="6.8"/><circle cx="1518.2" cy="785.5" r="6.8"/><circle cx="1428.0" cy="791.5" r="6.8"/><circle cx="1306.8" cy="799.5" r="6.8"/><circle cx="1365.8" cy="801.5" r="6.8"/><circle cx="1444.5" cy="811.0" r="6.8"/><circle cx="1311.2" cy="816.2" r="6.8"/><circle cx="1354.0" cy="819.0" r="6.8"/><circle cx="1342.5" cy="820.0" r="6.8"/><circle cx="1571.0" cy="820.0" r="6.8"/><circle cx="1389.0" cy="838.8" r="6.8"/><circle cx="1393.0" cy="829.5" r="6.8"/><circle cx="1372.5" cy="837.5" r="6.8"/><circle cx="1450.0" cy="843.0" r="6.8"/><circle cx="1643.5" cy="847.8" r="6.8"/><circle cx="1325.5" cy="849.5" r="6.8"/><circle cx="1348.0" cy="850.8" r="6.8"/><circle cx="1338.5" cy="849.5" r="6.8"/><circle cx="1355.0" cy="857.5" r="6.8"/><circle cx="1345.8" cy="860.8" r="6.8"/><circle cx="1511.5" cy="853.8" r="6.8"/><circle cx="1560.8" cy="863.5" r="6.8"/><circle cx="1310.0" cy="871.2" r="6.8"/><circle cx="1439.0" cy="870.5" r="6.8"/><circle cx="1432.8" cy="880.2" r="6.8"/><circle cx="1409.0" cy="873.5" r="6.8"/><circle cx="1395.5" cy="880.0" r="6.8"/><circle cx="1357.2" cy="882.2" r="6.8"/><circle cx="1306.2" cy="894.5" r="6.8"/><circle cx="1307.5" cy="904.5" r="6.8"/><circle cx="1306.8" cy="899.0" r="6.8"/><circle cx="1384.8" cy="905.5" r="6.8"/><circle cx="1411.8" cy="907.0" r="6.8"/><circle cx="1541.2" cy="906.8" r="6.8"/><circle cx="1490.8" cy="910.8" r="6.8"/><circle cx="1368.8" cy="920.8" r="6.8"/><circle cx="1372.5" cy="913.5" r="6.8"/><circle cx="1326.2" cy="920.8" r="6.8"/><circle cx="1317.5" cy="919.5" r="6.8"/><circle cx="1333.0" cy="925.0" r="6.8"/><circle cx="1352.5" cy="925.0" r="6.8"/><circle cx="1355.5" cy="930.2" r="6.8"/><circle cx="1447.8" cy="921.2" r="6.8"/><circle cx="1456.2" cy="930.0" r="6.8"/><circle cx="1484.2" cy="924.5" r="6.8"/><circle cx="1505.5" cy="925.8" r="6.8"/><circle cx="1505.5" cy="920.0" r="6.8"/><circle cx="1408.5" cy="928.2" r="6.8"/><circle cx="1396.0" cy="936.8" r="6.8"/><circle cx="1427.0" cy="945.2" r="6.8"/><circle cx="1427.0" cy="951.5" r="6.8"/><circle cx="1447.2" cy="949.2" r="6.8"/><circle cx="1356.5" cy="952.0" r="6.8"/><circle cx="1492.5" cy="952.5" r="6.8"/><circle cx="1384.5" cy="955.2" r="6.8"/><circle cx="1023.2" cy="964.2" r="6.8"/><circle cx="1072.0" cy="959.5" r="6.8"/><circle cx="1193.2" cy="966.5" r="6.8"/><circle cx="1196.2" cy="962.2" r="6.8"/><circle cx="1200.0" cy="961.5" r="6.8"/><circle cx="1225.8" cy="964.5" r="6.8"/><circle cx="1242.5" cy="967.2" r="6.8"/><circle cx="1256.2" cy="969.2" r="6.8"/><circle cx="1251.2" cy="969.8" r="6.8"/><circle cx="1277.5" cy="964.2" r="6.8"/><circle cx="1213.2" cy="978.8" r="6.8"/><circle cx="1083.0" cy="986.5" r="6.8"/><circle cx="1109.5" cy="994.2" r="6.8"/><circle cx="1160.2" cy="995.0" r="6.8"/><circle cx="1226.2" cy="997.5" r="6.8"/><circle cx="1297.5" cy="998.5" r="6.8"/><circle cx="1303.0" cy="1005.2" r="6.8"/><circle cx="1190.0" cy="1007.5" r="6.8"/><circle cx="1251.8" cy="1006.5" r="6.8"/><circle cx="1260.0" cy="1007.5" r="6.8"/><circle cx="1049.5" cy="1010.0" r="6.8"/><circle cx="1148.2" cy="1014.0" r="6.8"/><circle cx="1276.2" cy="1024.5" r="6.8"/><circle cx="1275.0" cy="1014.8" r="6.8"/><circle cx="1297.5" cy="1016.2" r="6.8"/><circle cx="1045.0" cy="1029.2" r="6.8"/><circle cx="1176.0" cy="1029.5" r="6.8"/><circle cx="1135.5" cy="1040.5" r="6.8"/><circle cx="1134.5" cy="1033.0" r="6.8"/><circle cx="1099.2" cy="1039.0" r="6.8"/><circle cx="1087.5" cy="1047.5" r="6.8"/><circle cx="1125.2" cy="1047.8" r="6.8"/><circle cx="1165.0" cy="1046.8" r="6.8"/><circle cx="1171.0" cy="1045.5" r="6.8"/><circle cx="1261.2" cy="1045.0" r="6.8"/><circle cx="988.8" cy="1048.5" r="6.8"/><circle cx="1161.2" cy="1056.5" r="6.8"/><circle cx="1182.8" cy="1057.5" r="6.8"/><circle cx="1207.2" cy="1055.8" r="6.8"/><circle cx="1237.5" cy="1074.0" r="6.8"/><circle cx="1238.0" cy="1083.5" r="6.8"/><circle cx="1240.0" cy="1076.0" r="6.8"/><circle cx="1221.8" cy="1077.8" r="6.8"/><circle cx="1210.8" cy="1085.8" r="6.8"/><circle cx="1226.8" cy="1091.2" r="6.8"/><circle cx="1280.0" cy="1083.8" r="6.8"/><circle cx="1048.8" cy="1090.2" r="6.8"/><circle cx="1090.2" cy="1087.2" r="6.8"/><circle cx="1164.5" cy="1096.8" r="6.8"/><circle cx="1177.0" cy="1116.0" r="6.8"/><circle cx="1173.8" cy="1107.8" r="6.8"/><circle cx="1221.0" cy="1108.0" r="6.8"/><circle cx="1081.2" cy="1115.8" r="6.8"/><circle cx="1303.0" cy="1115.2" r="6.8"/><circle cx="953.2" cy="1121.5" r="6.8"/><circle cx="1225.8" cy="1164.0" r="6.8"/><circle cx="1059.5" cy="1167.5" r="6.8"/><circle cx="1123.2" cy="1175.2" r="6.8"/><circle cx="1129.0" cy="1173.0" r="6.8"/><circle cx="1154.5" cy="1176.8" r="6.8"/><circle cx="1239.0" cy="1182.8" r="6.8"/><circle cx="1205.5" cy="1186.8" r="6.8"/><circle cx="1023.0" cy="1218.2" r="6.8"/><circle cx="1322.0" cy="963.5" r="6.8"/><circle cx="1347.0" cy="961.8" r="6.8"/><circle cx="1435.5" cy="970.2" r="6.8"/><circle cx="1433.0" cy="961.8" r="6.8"/><circle cx="1518.8" cy="959.0" r="6.8"/><circle cx="1308.8" cy="978.5" r="6.8"/><circle cx="1340.8" cy="975.2" r="6.8"/><circle cx="1417.5" cy="985.0" r="6.8"/><circle cx="1357.5" cy="990.5" r="6.8"/><circle cx="1384.0" cy="993.5" r="6.8"/><circle cx="1403.0" cy="994.0" r="6.8"/><circle cx="1357.0" cy="1002.5" r="6.8"/><circle cx="1362.5" cy="1011.0" r="6.8"/><circle cx="1423.0" cy="1006.0" r="6.8"/><circle cx="1328.0" cy="1012.2" r="6.8"/><circle cx="1327.5" cy="1007.5" r="6.8"/><circle cx="1550.5" cy="1006.5" r="6.8"/><circle cx="1497.0" cy="1014.8" r="6.8"/><circle cx="1529.8" cy="1014.0" r="6.8"/><circle cx="1324.2" cy="1020.5" r="6.8"/><circle cx="1307.5" cy="1019.8" r="6.8"/><circle cx="1432.2" cy="1016.8" r="6.8"/><circle cx="1445.0" cy="1019.8" r="6.8"/><circle cx="1416.8" cy="1025.2" r="6.8"/><circle cx="1391.8" cy="1031.5" r="6.8"/><circle cx="1524.0" cy="1039.0" r="6.8"/><circle cx="1327.5" cy="1044.2" r="6.8"/><circle cx="1351.2" cy="1044.8" r="6.8"/><circle cx="1373.8" cy="1048.2" r="6.8"/><circle cx="1539.8" cy="1049.8" r="6.8"/><circle cx="1431.8" cy="1053.5" r="6.8"/><circle cx="1502.0" cy="1054.8" r="6.8"/><circle cx="1373.2" cy="1068.2" r="6.8"/><circle cx="1352.0" cy="1070.2" r="6.8"/><circle cx="1360.8" cy="1082.2" r="6.8"/><circle cx="1348.8" cy="1075.5" r="6.8"/><circle cx="1401.8" cy="1070.2" r="6.8"/><circle cx="1415.5" cy="1074.2" r="6.8"/><circle cx="1392.5" cy="1076.8" r="6.8"/><circle cx="1407.0" cy="1076.2" r="6.8"/><circle cx="1520.2" cy="1079.5" r="6.8"/><circle cx="1442.0" cy="1083.0" r="6.8"/><circle cx="1306.8" cy="1093.0" r="6.8"/><circle cx="1479.0" cy="1099.8" r="6.8"/><circle cx="1566.5" cy="1099.8" r="6.8"/><circle cx="1387.5" cy="1102.5" r="6.8"/><circle cx="1423.8" cy="1107.2" r="6.8"/><circle cx="1589.2" cy="1119.0" r="6.8"/><circle cx="1581.2" cy="1129.5" r="6.8"/><circle cx="1444.5" cy="1131.8" r="6.8"/><circle cx="1449.0" cy="1137.8" r="6.8"/><circle cx="1435.0" cy="1145.2" r="6.8"/><circle cx="1436.8" cy="1135.2" r="6.8"/><circle cx="1381.2" cy="1146.8" r="6.8"/><circle cx="1378.8" cy="1141.5" r="6.8"/><circle cx="1352.0" cy="1148.0" r="6.8"/><circle cx="1398.0" cy="1153.5" r="6.8"/><circle cx="1399.5" cy="1159.0" r="6.8"/><circle cx="1501.8" cy="1159.5" r="6.8"/><circle cx="1370.8" cy="1166.0" r="6.8"/><circle cx="1413.8" cy="1171.5" r="6.8"/><circle cx="1315.5" cy="1174.0" r="6.8"/><circle cx="1363.0" cy="1188.5" r="6.8"/><circle cx="1451.2" cy="1198.2" r="6.8"/><circle cx="1470.0" cy="1199.8" r="6.8"/><circle cx="1429.2" cy="1237.8" r="6.8"/></g>
</g>
<g id="L3">
<path class="g" d="M147.7 1374.7V1920.0M238.2 1374.7V1920.0M328.7 1374.7V1920.0M419.2 1374.7V1920.0M509.7 1374.7V1920.0M600.2 1374.7V1920.0M690.7 1374.7V1920.0"/><path class="g" d="M74.5 1900.2H765.0M74.5 1849.6H765.0M74.5 1799.1H765.0M74.5 1748.5H765.0M74.5 1698.0H765.0M74.5 1647.4H765.0M74.5 1596.8H765.0M74.5 1546.3H765.0M74.5 1495.7H765.0M74.5 1445.2H765.0M74.5 1394.6H765.0"/>
<path class="ax" d="M74.5 1374.7V1920.0H765.0M147.7 1920.0v-7.5M238.2 1920.0v-7.5M328.7 1920.0v-7.5M419.2 1920.0v-7.5M509.7 1920.0v-7.5M600.2 1920.0v-7.5M690.7 1920.0v-7.5M74.5 1900.2h7.5M74.5 1849.6h7.5M74.5 1799.1h7.5M74.5 1748.5h7.5M74.5 1698.0h7.5M74.5 1647.4h7.5M74.5 1596.8h7.5M74.5 1546.3h7.5M74.5 1495.7h7.5M74.5 1445.2h7.5M74.5 1394.6h7.5"/>
<text class="tk" transform="translate(146.5 1950.8) scale(1 1.05)" text-anchor="middle">-1.5</text>
<text class="tk" transform="translate(237.0 1950.8) scale(1 1.05)" text-anchor="middle">-1</text>
<text class="tk" transform="translate(327.5 1950.8) scale(1 1.05)" text-anchor="middle">-0.5</text>
<text class="tk" transform="translate(419.2 1950.8) scale(1 1.05)" text-anchor="middle">0</text>
<text class="tk" transform="translate(509.7 1950.8) scale(1 1.05)" text-anchor="middle">0.5</text>
<text class="tk" transform="translate(600.2 1950.8) scale(1 1.05)" text-anchor="middle">1</text>
<text class="tk" transform="translate(690.7 1950.8) scale(1 1.05)" text-anchor="middle">1.5</text>
<text class="tk" transform="translate(65.0 1908.8) scale(1 1.05)" text-anchor="end">-1</text>
<text class="tk" transform="translate(65.0 1858.2) scale(1 1.05)" text-anchor="end">-0.8</text>
<text class="tk" transform="translate(65.0 1807.7) scale(1 1.05)" text-anchor="end">-0.6</text>
<text class="tk" transform="translate(65.0 1757.1) scale(1 1.05)" text-anchor="end">-0.4</text>
<text class="tk" transform="translate(65.0 1706.6) scale(1 1.05)" text-anchor="end">-0.2</text>
<text class="tk" transform="translate(65.0 1656.0) scale(1 1.05)" text-anchor="end">0</text>
<text class="tk" transform="translate(65.0 1605.4) scale(1 1.05)" text-anchor="end">0.2</text>
<text class="tk" transform="translate(65.0 1554.9) scale(1 1.05)" text-anchor="end">0.4</text>
<text class="tk" transform="translate(65.0 1504.3) scale(1 1.05)" text-anchor="end">0.6</text>
<text class="tk" transform="translate(65.0 1453.8) scale(1 1.05)" text-anchor="end">0.8</text>
<text class="tk" transform="translate(65.0 1403.2) scale(1 1.05)" text-anchor="end">1</text>
<text class="lb" x="419.8" y="1981.7" text-anchor="middle">I</text>
<text class="lb" transform="translate(16.5 1648.8) rotate(-90)" text-anchor="middle">Q</text>
<text class="tt" x="419.1" y="1366.9" text-anchor="middle">Constllation diagram of original JPC-SCMA symbols for resourse 3</text>
<g class="o"><circle cx="303.7" cy="1375.1" r="6.65"/><circle cx="405.3" cy="1375.1" r="6.65"/><circle cx="486.7" cy="1375.1" r="6.65"/><circle cx="588.3" cy="1375.1" r="6.65"/><circle cx="221.7" cy="1458.3" r="6.65"/><circle cx="323.3" cy="1458.3" r="6.65"/><circle cx="404.7" cy="1458.3" r="6.65"/><circle cx="506.3" cy="1458.3" r="6.65"/><circle cx="467.9" cy="1486.2" r="6.65"/><circle cx="549.3" cy="1486.2" r="6.65"/><circle cx="650.9" cy="1486.2" r="6.65"/><circle cx="156.0" cy="1525.0" r="6.65"/><circle cx="257.6" cy="1525.0" r="6.65"/><circle cx="339.0" cy="1525.0" r="6.65"/><circle cx="440.6" cy="1525.0" r="6.65"/><circle cx="284.5" cy="1569.3" r="6.65"/><circle cx="386.1" cy="1569.3" r="6.65"/><circle cx="467.5" cy="1569.3" r="6.65"/><circle cx="569.1" cy="1569.3" r="6.65"/><circle cx="417.2" cy="1575.1" r="6.65"/><circle cx="518.8" cy="1575.1" r="6.65"/><circle cx="600.2" cy="1575.1" r="6.65"/><circle cx="701.7" cy="1575.1" r="6.65"/><circle cx="73.7" cy="1608.2" r="6.65"/><circle cx="175.2" cy="1608.2" r="6.65"/><circle cx="256.7" cy="1608.2" r="6.65"/><circle cx="358.2" cy="1608.2" r="6.65"/><circle cx="219.0" cy="1636.0" r="6.65"/><circle cx="320.6" cy="1636.0" r="6.65"/><circle cx="402.0" cy="1636.0" r="6.65"/><circle cx="503.5" cy="1636.0" r="6.65"/><circle cx="250.1" cy="1919.7" r="6.65"/><circle cx="351.7" cy="1919.7" r="6.65"/><circle cx="433.1" cy="1919.7" r="6.65"/><circle cx="534.7" cy="1919.7" r="6.65"/><circle cx="332.1" cy="1836.5" r="6.65"/><circle cx="433.7" cy="1836.5" r="6.65"/><circle cx="515.1" cy="1836.5" r="6.65"/><circle cx="616.7" cy="1836.5" r="6.65"/><circle cx="187.5" cy="1808.6" r="6.65"/><circle cx="289.1" cy="1808.6" r="6.65"/><circle cx="472.1" cy="1808.6" r="6.65"/><circle cx="397.8" cy="1769.8" r="6.65"/><circle cx="499.4" cy="1769.8" r="6.65"/><circle cx="580.8" cy="1769.8" r="6.65"/><circle cx="682.4" cy="1769.8" r="6.65"/><circle cx="269.3" cy="1725.5" r="6.65"/><circle cx="370.9" cy="1725.5" r="6.65"/><circle cx="452.3" cy="1725.5" r="6.65"/><circle cx="553.9" cy="1725.5" r="6.65"/><circle cx="136.7" cy="1719.7" r="6.65"/><circle cx="238.2" cy="1719.7" r="6.65"/><circle cx="319.6" cy="1719.7" r="6.65"/><circle cx="421.2" cy="1719.7" r="6.65"/><circle cx="480.2" cy="1686.6" r="6.65"/><circle cx="581.7" cy="1686.6" r="6.65"/><circle cx="663.2" cy="1686.6" r="6.65"/><circle cx="764.7" cy="1686.6" r="6.65"/><circle cx="334.9" cy="1658.8" r="6.65"/><circle cx="436.4" cy="1658.8" r="6.65"/><circle cx="517.8" cy="1658.8" r="6.65"/><circle cx="619.4" cy="1658.8" r="6.65"/></g>
</g>
<g id="R3">
<path class="g" d="M970.0 1375.2V1919.8M1069.0 1375.2V1919.8M1168.1 1375.2V1919.8M1267.1 1375.2V1919.8M1366.1 1375.2V1919.8M1465.2 1375.2V1919.8M1564.2 1375.2V1919.8"/><path class="g" d="M953.0 1866.9H1643.5M953.0 1770.0H1643.5M953.0 1673.1H1643.5M953.0 1576.2H1643.5M953.0 1479.3H1643.5M953.0 1382.4H1643.5"/>
<path class="ax" d="M953.0 1375.2V1919.8H1643.5M970.0 1919.8v-7.5M1069.0 1919.8v-7.5M1168.1 1919.8v-7.5M1267.1 1919.8v-7.5M1366.1 1919.8v-7.5M1465.2 1919.8v-7.5M1564.2 1919.8v-7.5M953.0 1866.9h7.5M953.0 1770.0h7.5M953.0 1673.1h7.5M953.0 1576.2h7.5M953.0 1479.3h7.5M953.0 1382.4h7.5"/>
<text class="tk" transform="translate(968.8 1950.6) scale(1 1.05)" text-anchor="middle">-3</text>
<text class="tk" transform="translate(1067.8 1950.6) scale(1 1.05)" text-anchor="middle">-2</text>
<text class="tk" transform="translate(1166.9 1950.6) scale(1 1.05)" text-anchor="middle">-1</text>
<text class="tk" transform="translate(1267.1 1950.6) scale(1 1.05)" text-anchor="middle">0</text>
<text class="tk" transform="translate(1366.1 1950.6) scale(1 1.05)" text-anchor="middle">1</text>
<text class="tk" transform="translate(1465.2 1950.6) scale(1 1.05)" text-anchor="middle">2</text>
<text class="tk" transform="translate(1564.2 1950.6) scale(1 1.05)" text-anchor="middle">3</text>
<text class="tk" transform="translate(943.5 1875.5) scale(1 1.05)" text-anchor="end">-2</text>
<text class="tk" transform="translate(943.5 1778.6) scale(1 1.05)" text-anchor="end">-1</text>
<text class="tk" transform="translate(943.5 1681.7) scale(1 1.05)" text-anchor="end">0</text>
<text class="tk" transform="translate(943.5 1584.8) scale(1 1.05)" text-anchor="end">1</text>
<text class="tk" transform="translate(943.5 1487.9) scale(1 1.05)" text-anchor="end">2</text>
<text class="tk" transform="translate(943.5 1391.0) scale(1 1.05)" text-anchor="end">3</text>
<text class="lb" x="1298.2" y="1981.5" text-anchor="middle">I</text>
<text class="lb" transform="translate(912.1 1648.9) rotate(-90)" text-anchor="middle">Q</text>
<text class="tt" x="1297.5" y="1367.4" text-anchor="middle">Constllation diagram of scattered JPC-SCMA symbols for resourse 3</text>
<g class="s"><circle cx="1260.0" cy="1418.0" r="6.8"/><circle cx="1135.0" cy="1457.2" r="6.8"/><circle cx="1156.5" cy="1461.0" r="6.8"/><circle cx="1169.0" cy="1467.0" r="6.8"/><circle cx="1159.0" cy="1472.0" r="6.8"/><circle cx="1121.5" cy="1489.5" r="6.8"/><circle cx="1246.2" cy="1485.5" r="6.8"/><circle cx="1260.0" cy="1500.5" r="6.8"/><circle cx="1100.0" cy="1507.8" r="6.8"/><circle cx="1105.0" cy="1500.8" r="6.8"/><circle cx="953.2" cy="1512.0" r="6.8"/><circle cx="1157.8" cy="1515.8" r="6.8"/><circle cx="1296.2" cy="1515.8" r="6.8"/><circle cx="1085.8" cy="1521.8" r="6.8"/><circle cx="1106.8" cy="1520.5" r="6.8"/><circle cx="1256.2" cy="1524.0" r="6.8"/><circle cx="1251.8" cy="1520.5" r="6.8"/><circle cx="981.0" cy="1541.2" r="6.8"/><circle cx="1041.2" cy="1540.2" r="6.8"/><circle cx="1156.5" cy="1544.0" r="6.8"/><circle cx="1165.8" cy="1539.5" r="6.8"/><circle cx="1197.8" cy="1542.8" r="6.8"/><circle cx="1208.2" cy="1548.2" r="6.8"/><circle cx="1176.0" cy="1552.8" r="6.8"/><circle cx="1277.5" cy="1540.0" r="6.8"/><circle cx="1283.8" cy="1547.2" r="6.8"/><circle cx="1118.8" cy="1555.2" r="6.8"/><circle cx="1129.5" cy="1557.2" r="6.8"/><circle cx="995.2" cy="1562.0" r="6.8"/><circle cx="1084.0" cy="1566.5" r="6.8"/><circle cx="1099.2" cy="1570.0" r="6.8"/><circle cx="1154.5" cy="1568.2" r="6.8"/><circle cx="1196.0" cy="1570.5" r="6.8"/><circle cx="1253.2" cy="1566.0" r="6.8"/><circle cx="1285.2" cy="1569.0" r="6.8"/><circle cx="1295.5" cy="1564.2" r="6.8"/><circle cx="1067.5" cy="1575.5" r="6.8"/><circle cx="1059.2" cy="1585.5" r="6.8"/><circle cx="974.8" cy="1596.8" r="6.8"/><circle cx="1123.5" cy="1591.8" r="6.8"/><circle cx="1198.8" cy="1595.2" r="6.8"/><circle cx="1233.0" cy="1599.5" r="6.8"/><circle cx="1090.2" cy="1602.0" r="6.8"/><circle cx="1130.5" cy="1613.2" r="6.8"/><circle cx="1268.8" cy="1622.5" r="6.8"/><circle cx="1300.8" cy="1623.0" r="6.8"/><circle cx="1128.8" cy="1626.8" r="6.8"/><circle cx="1236.8" cy="1625.5" r="6.8"/><circle cx="1198.8" cy="1630.2" r="6.8"/><circle cx="1247.0" cy="1634.0" r="6.8"/><circle cx="1250.0" cy="1641.5" r="6.8"/><circle cx="1316.2" cy="1375.0" r="6.8"/><circle cx="1506.8" cy="1424.5" r="6.8"/><circle cx="1495.5" cy="1420.2" r="6.8"/><circle cx="1342.5" cy="1454.2" r="6.8"/><circle cx="1383.0" cy="1453.0" r="6.8"/><circle cx="1527.5" cy="1451.8" r="6.8"/><circle cx="1411.0" cy="1463.5" r="6.8"/><circle cx="1460.0" cy="1468.8" r="6.8"/><circle cx="1488.5" cy="1474.0" r="6.8"/><circle cx="1643.5" cy="1496.2" r="6.8"/><circle cx="1306.8" cy="1505.2" r="6.8"/><circle cx="1308.8" cy="1497.8" r="6.8"/><circle cx="1333.8" cy="1499.0" r="6.8"/><circle cx="1489.2" cy="1500.2" r="6.8"/><circle cx="1501.8" cy="1518.8" r="6.8"/><circle cx="1353.8" cy="1522.8" r="6.8"/><circle cx="1350.8" cy="1525.0" r="6.8"/><circle cx="1402.0" cy="1523.0" r="6.8"/><circle cx="1410.5" cy="1528.2" r="6.8"/><circle cx="1436.8" cy="1525.0" r="6.8"/><circle cx="1565.8" cy="1532.5" r="6.8"/><circle cx="1362.0" cy="1536.2" r="6.8"/><circle cx="1392.0" cy="1535.8" r="6.8"/><circle cx="1330.5" cy="1547.0" r="6.8"/><circle cx="1327.5" cy="1550.2" r="6.8"/><circle cx="1413.0" cy="1555.8" r="6.8"/><circle cx="1586.0" cy="1554.8" r="6.8"/><circle cx="1479.0" cy="1560.2" r="6.8"/><circle cx="1465.0" cy="1562.8" r="6.8"/><circle cx="1311.2" cy="1567.8" r="6.8"/><circle cx="1410.2" cy="1570.5" r="6.8"/><circle cx="1369.0" cy="1579.8" r="6.8"/><circle cx="1500.5" cy="1579.0" r="6.8"/><circle cx="1484.0" cy="1594.5" r="6.8"/><circle cx="1323.2" cy="1596.5" r="6.8"/><circle cx="1306.8" cy="1602.2" r="6.8"/><circle cx="1369.2" cy="1599.8" r="6.8"/><circle cx="1373.0" cy="1609.2" r="6.8"/><circle cx="1389.5" cy="1602.5" r="6.8"/><circle cx="1342.5" cy="1610.2" r="6.8"/><circle cx="1348.8" cy="1608.5" r="6.8"/><circle cx="1396.2" cy="1609.5" r="6.8"/><circle cx="1403.8" cy="1608.5" r="6.8"/><circle cx="1412.0" cy="1612.0" r="6.8"/><circle cx="1457.5" cy="1611.5" r="6.8"/><circle cx="1461.8" cy="1618.5" r="6.8"/><circle cx="1497.5" cy="1613.0" r="6.8"/><circle cx="1399.5" cy="1626.8" r="6.8"/><circle cx="1349.5" cy="1633.5" r="6.8"/><circle cx="996.8" cy="1656.5" r="6.8"/><circle cx="1089.0" cy="1649.5" r="6.8"/><circle cx="1191.2" cy="1648.5" r="6.8"/><circle cx="1235.8" cy="1652.2" r="6.8"/><circle cx="1234.2" cy="1661.5" r="6.8"/><circle cx="1276.2" cy="1650.0" r="6.8"/><circle cx="1274.2" cy="1654.2" r="6.8"/><circle cx="1272.5" cy="1651.0" r="6.8"/><circle cx="1214.2" cy="1661.0" r="6.8"/><circle cx="1122.5" cy="1663.8" r="6.8"/><circle cx="1295.0" cy="1662.5" r="6.8"/><circle cx="1052.8" cy="1671.8" r="6.8"/><circle cx="1150.0" cy="1669.8" r="6.8"/><circle cx="1184.5" cy="1669.5" r="6.8"/><circle cx="1218.2" cy="1673.2" r="6.8"/><circle cx="1255.0" cy="1672.2" r="6.8"/><circle cx="1278.5" cy="1673.8" r="6.8"/><circle cx="1170.0" cy="1679.8" r="6.8"/><circle cx="1164.2" cy="1681.0" r="6.8"/><circle cx="1195.2" cy="1681.0" r="6.8"/><circle cx="1148.8" cy="1687.0" r="6.8"/><circle cx="1250.0" cy="1683.5" r="6.8"/><circle cx="1260.2" cy="1688.8" r="6.8"/><circle cx="1235.2" cy="1688.0" r="6.8"/><circle cx="1095.5" cy="1698.0" r="6.8"/><circle cx="1111.5" cy="1696.8" r="6.8"/><circle cx="1187.5" cy="1700.0" r="6.8"/><circle cx="1194.5" cy="1702.5" r="6.8"/><circle cx="1198.5" cy="1708.0" r="6.8"/><circle cx="1216.0" cy="1700.8" r="6.8"/><circle cx="1230.5" cy="1702.2" r="6.8"/><circle cx="1235.8" cy="1704.5" r="6.8"/><circle cx="1259.0" cy="1703.0" r="6.8"/><circle cx="1301.8" cy="1703.8" r="6.8"/><circle cx="1138.8" cy="1723.0" r="6.8"/><circle cx="1135.2" cy="1715.5" r="6.8"/><circle cx="1148.2" cy="1722.5" r="6.8"/><circle cx="1158.0" cy="1715.5" r="6.8"/><circle cx="1168.2" cy="1721.8" r="6.8"/><circle cx="1207.0" cy="1720.8" r="6.8"/><circle cx="1300.0" cy="1723.0" r="6.8"/><circle cx="1234.0" cy="1726.8" r="6.8"/><circle cx="1254.2" cy="1724.2" r="6.8"/><circle cx="1254.2" cy="1728.8" r="6.8"/><circle cx="1219.2" cy="1730.5" r="6.8"/><circle cx="1161.2" cy="1735.5" r="6.8"/><circle cx="1161.8" cy="1742.2" r="6.8"/><circle cx="1079.5" cy="1738.2" r="6.8"/><circle cx="1291.0" cy="1737.5" r="6.8"/><circle cx="1093.0" cy="1748.2" r="6.8"/><circle cx="1109.5" cy="1749.5" r="6.8"/><circle cx="1115.8" cy="1760.0" r="6.8"/><circle cx="983.8" cy="1754.8" r="6.8"/><circle cx="1298.8" cy="1755.5" r="6.8"/><circle cx="1292.5" cy="1756.8" r="6.8"/><circle cx="1215.5" cy="1760.0" r="6.8"/><circle cx="1273.8" cy="1766.2" r="6.8"/><circle cx="1266.2" cy="1762.2" r="6.8"/><circle cx="1199.2" cy="1771.5" r="6.8"/><circle cx="1208.2" cy="1773.5" r="6.8"/><circle cx="1243.2" cy="1773.5" r="6.8"/><circle cx="1235.8" cy="1772.0" r="6.8"/><circle cx="1262.0" cy="1775.2" r="6.8"/><circle cx="1113.0" cy="1783.0" r="6.8"/><circle cx="1117.5" cy="1786.8" r="6.8"/><circle cx="1135.5" cy="1787.0" r="6.8"/><circle cx="1176.0" cy="1789.5" r="6.8"/><circle cx="992.5" cy="1792.2" r="6.8"/><circle cx="1220.8" cy="1793.2" r="6.8"/><circle cx="1207.2" cy="1795.2" r="6.8"/><circle cx="1254.5" cy="1800.5" r="6.8"/><circle cx="1260.2" cy="1792.0" r="6.8"/><circle cx="1273.0" cy="1793.0" r="6.8"/><circle cx="1262.2" cy="1805.2" r="6.8"/><circle cx="979.0" cy="1801.0" r="6.8"/><circle cx="1014.8" cy="1805.0" r="6.8"/><circle cx="1117.8" cy="1807.0" r="6.8"/><circle cx="1279.0" cy="1809.5" r="6.8"/><circle cx="1182.5" cy="1817.2" r="6.8"/><circle cx="1077.2" cy="1829.8" r="6.8"/><circle cx="1275.2" cy="1838.5" r="6.8"/><circle cx="1282.0" cy="1829.5" r="6.8"/><circle cx="1173.8" cy="1833.8" r="6.8"/><circle cx="1158.0" cy="1838.0" r="6.8"/><circle cx="1149.8" cy="1843.0" r="6.8"/><circle cx="1256.5" cy="1852.2" r="6.8"/><circle cx="1265.2" cy="1859.2" r="6.8"/><circle cx="1198.0" cy="1864.5" r="6.8"/><circle cx="1221.2" cy="1875.0" r="6.8"/><circle cx="1061.2" cy="1877.0" r="6.8"/><circle cx="1152.0" cy="1881.2" r="6.8"/><circle cx="1182.5" cy="1890.8" r="6.8"/><circle cx="1128.0" cy="1901.8" r="6.8"/><circle cx="1302.5" cy="1910.8" r="6.8"/><circle cx="1270.5" cy="1919.8" r="6.8"/><circle cx="1324.5" cy="1640.8" r="6.8"/><circle cx="1431.2" cy="1647.2" r="6.8"/><circle cx="1467.0" cy="1641.8" r="6.8"/><circle cx="1553.0" cy="1640.8" r="6.8"/><circle cx="1316.8" cy="1656.8" r="6.8"/><circle cx="1382.0" cy="1670.8" r="6.8"/><circle cx="1311.2" cy="1678.0" r="6.8"/><circle cx="1312.0" cy="1682.5" r="6.8"/><circle cx="1494.5" cy="1682.2" r="6.8"/><circle cx="1416.8" cy="1688.8" r="6.8"/><circle cx="1454.0" cy="1688.5" r="6.8"/><circle cx="1375.0" cy="1696.5" r="6.8"/><circle cx="1389.5" cy="1696.5" r="6.8"/><circle cx="1483.8" cy="1696.8" r="6.8"/><circle cx="1494.5" cy="1696.0" r="6.8"/><circle cx="1499.2" cy="1703.8" r="6.8"/><circle cx="1495.8" cy="1701.8" r="6.8"/><circle cx="1471.0" cy="1703.5" r="6.8"/><circle cx="1310.0" cy="1717.2" r="6.8"/><circle cx="1509.5" cy="1722.8" r="6.8"/><circle cx="1426.2" cy="1737.8" r="6.8"/><circle cx="1348.0" cy="1744.2" r="6.8"/><circle cx="1347.2" cy="1741.2" r="6.8"/><circle cx="1487.5" cy="1751.5" r="6.8"/><circle cx="1390.8" cy="1756.2" r="6.8"/><circle cx="1512.8" cy="1758.5" r="6.8"/><circle cx="1319.2" cy="1766.0" r="6.8"/><circle cx="1327.0" cy="1777.2" r="6.8"/><circle cx="1321.2" cy="1773.5" r="6.8"/><circle cx="1340.0" cy="1773.0" r="6.8"/><circle cx="1357.2" cy="1766.8" r="6.8"/><circle cx="1383.2" cy="1766.8" r="6.8"/><circle cx="1366.2" cy="1778.8" r="6.8"/><circle cx="1395.0" cy="1778.8" r="6.8"/><circle cx="1394.2" cy="1775.0" r="6.8"/><circle cx="1468.5" cy="1780.8" r="6.8"/><circle cx="1370.5" cy="1796.0" r="6.8"/><circle cx="1384.2" cy="1800.5" r="6.8"/><circle cx="1386.8" cy="1813.0" r="6.8"/><circle cx="1383.2" cy="1806.8" r="6.8"/><circle cx="1319.2" cy="1803.0" r="6.8"/><circle cx="1411.0" cy="1805.5" r="6.8"/><circle cx="1442.5" cy="1804.2" r="6.8"/><circle cx="1552.5" cy="1809.2" r="6.8"/><circle cx="1468.8" cy="1814.5" r="6.8"/><circle cx="1502.2" cy="1817.2" r="6.8"/><circle cx="1305.0" cy="1805.0" r="6.8"/><circle cx="1306.8" cy="1821.2" r="6.8"/><circle cx="1395.8" cy="1828.0" r="6.8"/><circle cx="1329.0" cy="1830.2" r="6.8"/><circle cx="1497.2" cy="1840.2" r="6.8"/><circle cx="1359.2" cy="1856.8" r="6.8"/><circle cx="1392.5" cy="1862.5" r="6.8"/><circle cx="1316.0" cy="1863.8" r="6.8"/><circle cx="1436.0" cy="1865.8" r="6.8"/><circle cx="1537.8" cy="1860.8" r="6.8"/><circle cx="1482.8" cy="1888.2" r="6.8"/><circle cx="1487.0" cy="1904.8" r="6.8"/><circle cx="1374.0" cy="1907.8" r="6.8"/><circle cx="1511.2" cy="1912.5" r="6.8"/></g>
</g>
<g id="L4">
<path class="g" d="M180.0 2042.7V2588.1M299.9 2042.7V2588.1M419.8 2042.7V2588.1M539.7 2042.7V2588.1M659.6 2042.7V2588.1"/><path class="g" d="M74.5 2534.1H765.3M74.5 2424.8H765.3M74.5 2315.4H765.3M74.5 2206.1H765.3M74.5 2096.7H765.3"/>
<path class="ax" d="M74.5 2042.7V2588.1H765.3M180.0 2588.1v-7.5M299.9 2588.1v-7.5M419.8 2588.1v-7.5M539.7 2588.1v-7.5M659.6 2588.1v-7.5M74.5 2534.1h7.5M74.5 2424.8h7.5M74.5 2315.4h7.5M74.5 2206.1h7.5M74.5 2096.7h7.5"/>
<text class="tk" transform="translate(178.8 2618.9) scale(1 1.05)" text-anchor="middle">-1</text>
<text class="tk" transform="translate(298.7 2618.9) scale(1 1.05)" text-anchor="middle">-0.5</text>
<text class="tk" transform="translate(419.8 2618.9) scale(1 1.05)" text-anchor="middle">0</text>
<text class="tk" transform="translate(539.7 2618.9) scale(1 1.05)" text-anchor="middle">0.5</text>
<text class="tk" transform="translate(659.6 2618.9) scale(1 1.05)" text-anchor="middle">1</text>
<text class="tk" transform="translate(65.0 2542.7) scale(1 1.05)" text-anchor="end">-1</text>
<text class="tk" transform="translate(65.0 2433.3) scale(1 1.05)" text-anchor="end">-0.5</text>
<text class="tk" transform="translate(65.0 2324.0) scale(1 1.05)" text-anchor="end">0</text>
<text class="tk" transform="translate(65.0 2214.7) scale(1 1.05)" text-anchor="end">0.5</text>
<text class="tk" transform="translate(65.0 2105.3) scale(1 1.05)" text-anchor="end">1</text>
<text class="lb" x="419.9" y="2649.8" text-anchor="middle">I</text>
<text class="lb" transform="translate(16.5 2316.8) rotate(-90)" text-anchor="middle">Q</text>
<text class="tt" x="419.2" y="2034.9" text-anchor="middle">Constllation diagram of original JPC-SCMA symbols for resourse 4</text>
<g class="o"><circle cx="83.6" cy="2043.1" r="6.65"/><circle cx="218.1" cy="2043.1" r="6.65"/><circle cx="326.0" cy="2043.1" r="6.65"/><circle cx="460.6" cy="2043.1" r="6.65"/><circle cx="192.2" cy="2115.5" r="6.65"/><circle cx="326.8" cy="2115.5" r="6.65"/><circle cx="434.7" cy="2115.5" r="6.65"/><circle cx="569.2" cy="2115.5" r="6.65"/><circle cx="80.2" cy="2166.0" r="6.65"/><circle cx="214.8" cy="2166.0" r="6.65"/><circle cx="322.7" cy="2166.0" r="6.65"/><circle cx="457.2" cy="2166.0" r="6.65"/><circle cx="279.3" cy="2173.0" r="6.65"/><circle cx="413.8" cy="2173.0" r="6.65"/><circle cx="521.7" cy="2173.0" r="6.65"/><circle cx="656.2" cy="2173.0" r="6.65"/><circle cx="188.9" cy="2238.0" r="6.65"/><circle cx="323.4" cy="2238.0" r="6.65"/><circle cx="431.3" cy="2238.0" r="6.65"/><circle cx="565.8" cy="2238.0" r="6.65"/><circle cx="388.4" cy="2245.0" r="6.65"/><circle cx="522.9" cy="2245.0" r="6.65"/><circle cx="630.8" cy="2245.0" r="6.65"/><circle cx="765.4" cy="2245.0" r="6.65"/><circle cx="77.8" cy="2263.6" r="6.65"/><circle cx="212.4" cy="2263.6" r="6.65"/><circle cx="320.3" cy="2263.6" r="6.65"/><circle cx="454.8" cy="2263.6" r="6.65"/><circle cx="275.9" cy="2295.4" r="6.65"/><circle cx="410.4" cy="2295.4" r="6.65"/><circle cx="652.9" cy="2295.4" r="6.65"/><circle cx="379.0" cy="2587.7" r="6.65"/><circle cx="513.6" cy="2587.7" r="6.65"/><circle cx="621.5" cy="2587.7" r="6.65"/><circle cx="756.0" cy="2587.7" r="6.65"/><circle cx="270.4" cy="2515.3" r="6.65"/><circle cx="404.9" cy="2515.3" r="6.65"/><circle cx="512.8" cy="2515.3" r="6.65"/><circle cx="647.4" cy="2515.3" r="6.65"/><circle cx="382.4" cy="2464.8" r="6.65"/><circle cx="516.9" cy="2464.8" r="6.65"/><circle cx="624.8" cy="2464.8" r="6.65"/><circle cx="759.4" cy="2464.8" r="6.65"/><circle cx="183.4" cy="2457.8" r="6.65"/><circle cx="317.9" cy="2457.8" r="6.65"/><circle cx="425.8" cy="2457.8" r="6.65"/><circle cx="560.3" cy="2457.8" r="6.65"/><circle cx="273.8" cy="2392.8" r="6.65"/><circle cx="408.3" cy="2392.8" r="6.65"/><circle cx="516.2" cy="2392.8" r="6.65"/><circle cx="74.2" cy="2385.8" r="6.65"/><circle cx="208.8" cy="2385.8" r="6.65"/><circle cx="316.7" cy="2385.8" r="6.65"/><circle cx="451.2" cy="2385.8" r="6.65"/><circle cx="384.8" cy="2367.2" r="6.65"/><circle cx="519.3" cy="2367.2" r="6.65"/><circle cx="627.2" cy="2367.2" r="6.65"/><circle cx="761.8" cy="2367.2" r="6.65"/><circle cx="186.7" cy="2335.4" r="6.65"/><circle cx="321.2" cy="2335.4" r="6.65"/><circle cx="429.2" cy="2335.4" r="6.65"/><circle cx="563.7" cy="2335.4" r="6.65"/></g>
</g>
<g id="R4">
<path class="g" d="M1060.9 2043.4V2588.0M1177.7 2043.4V2588.0M1294.4 2043.4V2588.0M1411.2 2043.4V2588.0M1527.9 2043.4V2588.0"/><path class="g" d="M953.0 2548.8H1643.5M953.0 2502.3H1643.5M953.0 2455.8H1643.5M953.0 2409.4H1643.5M953.0 2362.9H1643.5M953.0 2316.5H1643.5M953.0 2270.1H1643.5M953.0 2223.6H1643.5M953.0 2177.2H1643.5M953.0 2130.7H1643.5M953.0 2084.2H1643.5"/>
<path class="ax" d="M953.0 2043.4V2588.0H1643.5M1060.9 2588.0v-7.5M1177.7 2588.0v-7.5M1294.4 2588.0v-7.5M1411.2 2588.0v-7.5M1527.9 2588.0v-7.5M953.0 2548.8h7.5M953.0 2502.3h7.5M953.0 2455.8h7.5M953.0 2409.4h7.5M953.0 2362.9h7.5M953.0 2316.5h7.5M953.0 2270.1h7.5M953.0 2223.6h7.5M953.0 2177.2h7.5M953.0 2130.7h7.5M953.0 2084.2h7.5"/>
<text class="tk" transform="translate(1059.7 2618.8) scale(1 1.05)" text-anchor="middle">-2</text>
<text class="tk" transform="translate(1176.5 2618.8) scale(1 1.05)" text-anchor="middle">-1</text>
<text class="tk" transform="translate(1294.4 2618.8) scale(1 1.05)" text-anchor="middle">0</text>
<text class="tk" transform="translate(1411.2 2618.8) scale(1 1.05)" text-anchor="middle">1</text>
<text class="tk" transform="translate(1527.9 2618.8) scale(1 1.05)" text-anchor="middle">2</text>
<text class="tk" transform="translate(943.5 2557.3) scale(1 1.05)" text-anchor="end">-2.5</text>
<text class="tk" transform="translate(943.5 2510.9) scale(1 1.05)" text-anchor="end">-2</text>
<text class="tk" transform="translate(943.5 2464.4) scale(1 1.05)" text-anchor="end">-1.5</text>
<text class="tk" transform="translate(943.5 2418.0) scale(1 1.05)" text-anchor="end">-1</text>
<text class="tk" transform="translate(943.5 2371.5) scale(1 1.05)" text-anchor="end">-0.5</text>
<text class="tk" transform="translate(943.5 2325.1) scale(1 1.05)" text-anchor="end">0</text>
<text class="tk" transform="translate(943.5 2278.7) scale(1 1.05)" text-anchor="end">0.5</text>
<text class="tk" transform="translate(943.5 2232.2) scale(1 1.05)" text-anchor="end">1</text>
<text class="tk" transform="translate(943.5 2185.8) scale(1 1.05)" text-anchor="end">1.5</text>
<text class="tk" transform="translate(943.5 2139.3) scale(1 1.05)" text-anchor="end">2</text>
<text class="tk" transform="translate(943.5 2092.8) scale(1 1.05)" text-anchor="end">2.5</text>
<text class="lb" x="1298.2" y="2649.7" text-anchor="middle">I</text>
<text class="lb" transform="translate(895.0 2317.1) rotate(-90)" text-anchor="middle">Q</text>
<text class="tt" x="1297.5" y="2035.6" text-anchor="middle">Constllation diagram of scattered JPC-SCMA symbols for resourse 4</text>
<g class="s"><circle cx="1072.5" cy="2067.5" r="6.8"/><circle cx="1198.5" cy="2078.8" r="6.8"/><circle cx="1097.2" cy="2084.2" r="6.8"/><circle cx="1110.0" cy="2108.2" r="6.8"/><circle cx="1023.5" cy="2110.0" r="6.8"/><circle cx="1244.8" cy="2109.0" r="6.8"/><circle cx="1189.5" cy="2117.8" r="6.8"/><circle cx="1104.2" cy="2130.2" r="6.8"/><circle cx="1121.8" cy="2130.2" r="6.8"/><circle cx="1272.0" cy="2129.0" r="6.8"/><circle cx="1190.8" cy="2133.2" r="6.8"/><circle cx="1195.5" cy="2141.2" r="6.8"/><circle cx="1264.0" cy="2144.0" r="6.8"/><circle cx="1226.2" cy="2150.8" r="6.8"/><circle cx="1125.8" cy="2154.8" r="6.8"/><circle cx="1152.8" cy="2156.5" r="6.8"/><circle cx="1184.2" cy="2156.8" r="6.8"/><circle cx="962.0" cy="2157.5" r="6.8"/><circle cx="1228.0" cy="2165.5" r="6.8"/><circle cx="1261.2" cy="2165.5" r="6.8"/><circle cx="1278.5" cy="2175.5" r="6.8"/><circle cx="1216.8" cy="2185.0" r="6.8"/><circle cx="1124.2" cy="2186.8" r="6.8"/><circle cx="1272.2" cy="2189.5" r="6.8"/><circle cx="1231.0" cy="2193.0" r="6.8"/><circle cx="1039.5" cy="2194.2" r="6.8"/><circle cx="1018.5" cy="2199.2" r="6.8"/><circle cx="1303.8" cy="2197.8" r="6.8"/><circle cx="1237.2" cy="2205.2" r="6.8"/><circle cx="1107.5" cy="2212.0" r="6.8"/><circle cx="1100.8" cy="2205.8" r="6.8"/><circle cx="1196.2" cy="2208.5" r="6.8"/><circle cx="954.2" cy="2212.5" r="6.8"/><circle cx="1256.2" cy="2214.5" r="6.8"/><circle cx="1109.5" cy="2220.8" r="6.8"/><circle cx="1097.5" cy="2217.8" r="6.8"/><circle cx="960.5" cy="2225.5" r="6.8"/><circle cx="1180.5" cy="2234.8" r="6.8"/><circle cx="1184.8" cy="2224.5" r="6.8"/><circle cx="1123.2" cy="2226.8" r="6.8"/><circle cx="1240.0" cy="2235.0" r="6.8"/><circle cx="1224.2" cy="2237.2" r="6.8"/><circle cx="1256.8" cy="2234.0" r="6.8"/><circle cx="1251.8" cy="2246.0" r="6.8"/><circle cx="1258.0" cy="2239.5" r="6.8"/><circle cx="1290.0" cy="2246.2" r="6.8"/><circle cx="1289.5" cy="2237.2" r="6.8"/><circle cx="996.5" cy="2246.0" r="6.8"/><circle cx="1014.2" cy="2245.2" r="6.8"/><circle cx="970.0" cy="2251.8" r="6.8"/><circle cx="1057.0" cy="2252.0" r="6.8"/><circle cx="1100.5" cy="2253.0" r="6.8"/><circle cx="1140.5" cy="2249.5" r="6.8"/><circle cx="1193.8" cy="2257.5" r="6.8"/><circle cx="1198.2" cy="2258.8" r="6.8"/><circle cx="1177.0" cy="2263.0" r="6.8"/><circle cx="1170.0" cy="2266.0" r="6.8"/><circle cx="1258.2" cy="2265.0" r="6.8"/><circle cx="1074.5" cy="2267.0" r="6.8"/><circle cx="1193.2" cy="2270.2" r="6.8"/><circle cx="1297.5" cy="2270.8" r="6.8"/><circle cx="1290.5" cy="2276.0" r="6.8"/><circle cx="1278.8" cy="2274.0" r="6.8"/><circle cx="1045.5" cy="2276.5" r="6.8"/><circle cx="1038.0" cy="2294.0" r="6.8"/><circle cx="1042.0" cy="2285.8" r="6.8"/><circle cx="1078.0" cy="2281.8" r="6.8"/><circle cx="1128.8" cy="2281.5" r="6.8"/><circle cx="1190.0" cy="2282.0" r="6.8"/><circle cx="1237.0" cy="2279.8" r="6.8"/><circle cx="1266.2" cy="2283.2" r="6.8"/><circle cx="1066.8" cy="2300.2" r="6.8"/><circle cx="1237.0" cy="2303.2" r="6.8"/><circle cx="1325.5" cy="2043.0" r="6.8"/><circle cx="1403.5" cy="2080.2" r="6.8"/><circle cx="1416.2" cy="2097.8" r="6.8"/><circle cx="1460.5" cy="2107.5" r="6.8"/><circle cx="1371.0" cy="2124.0" r="6.8"/><circle cx="1368.8" cy="2115.0" r="6.8"/><circle cx="1306.8" cy="2117.0" r="6.8"/><circle cx="1410.8" cy="2127.0" r="6.8"/><circle cx="1436.2" cy="2134.5" r="6.8"/><circle cx="1403.0" cy="2140.0" r="6.8"/><circle cx="1306.8" cy="2141.5" r="6.8"/><circle cx="1384.2" cy="2147.2" r="6.8"/><circle cx="1340.2" cy="2157.8" r="6.8"/><circle cx="1386.8" cy="2186.2" r="6.8"/><circle cx="1575.0" cy="2186.2" r="6.8"/><circle cx="1486.0" cy="2199.5" r="6.8"/><circle cx="1517.0" cy="2206.2" r="6.8"/><circle cx="1378.8" cy="2224.0" r="6.8"/><circle cx="1431.8" cy="2232.0" r="6.8"/><circle cx="1477.5" cy="2229.5" r="6.8"/><circle cx="1506.0" cy="2234.8" r="6.8"/><circle cx="1442.5" cy="2245.8" r="6.8"/><circle cx="1537.5" cy="2245.5" r="6.8"/><circle cx="1403.0" cy="2247.2" r="6.8"/><circle cx="1381.2" cy="2251.5" r="6.8"/><circle cx="1388.0" cy="2252.2" r="6.8"/><circle cx="1506.2" cy="2253.0" r="6.8"/><circle cx="1418.8" cy="2256.2" r="6.8"/><circle cx="1406.2" cy="2262.0" r="6.8"/><circle cx="1411.8" cy="2257.0" r="6.8"/><circle cx="1398.2" cy="2260.8" r="6.8"/><circle cx="1437.0" cy="2264.8" r="6.8"/><circle cx="1366.8" cy="2269.0" r="6.8"/><circle cx="1451.2" cy="2281.2" r="6.8"/><circle cx="1363.8" cy="2284.5" r="6.8"/><circle cx="1512.5" cy="2285.0" r="6.8"/><circle cx="1531.2" cy="2288.0" r="6.8"/><circle cx="1540.0" cy="2288.2" r="6.8"/><circle cx="1377.5" cy="2295.8" r="6.8"/><circle cx="1377.5" cy="2289.5" r="6.8"/><circle cx="1310.0" cy="2290.8" r="6.8"/><circle cx="1305.8" cy="2281.5" r="6.8"/><circle cx="1323.8" cy="2293.5" r="6.8"/><circle cx="1430.0" cy="2300.0" r="6.8"/><circle cx="1435.0" cy="2297.8" r="6.8"/><circle cx="1473.5" cy="2300.2" r="6.8"/><circle cx="1447.8" cy="2304.5" r="6.8"/><circle cx="1138.2" cy="2307.5" r="6.8"/><circle cx="1188.8" cy="2307.0" r="6.8"/><circle cx="1202.0" cy="2314.8" r="6.8"/><circle cx="1262.0" cy="2312.2" r="6.8"/><circle cx="1264.2" cy="2321.0" r="6.8"/><circle cx="1052.5" cy="2321.8" r="6.8"/><circle cx="1190.0" cy="2321.0" r="6.8"/><circle cx="1291.8" cy="2332.5" r="6.8"/><circle cx="1199.2" cy="2334.0" r="6.8"/><circle cx="1210.0" cy="2337.0" r="6.8"/><circle cx="1220.0" cy="2329.8" r="6.8"/><circle cx="1225.5" cy="2334.8" r="6.8"/><circle cx="1265.0" cy="2336.0" r="6.8"/><circle cx="1236.2" cy="2343.0" r="6.8"/><circle cx="1180.5" cy="2344.0" r="6.8"/><circle cx="1273.2" cy="2350.5" r="6.8"/><circle cx="1281.8" cy="2344.8" r="6.8"/><circle cx="958.5" cy="2356.8" r="6.8"/><circle cx="1189.2" cy="2358.5" r="6.8"/><circle cx="989.0" cy="2359.8" r="6.8"/><circle cx="982.0" cy="2368.8" r="6.8"/><circle cx="1065.0" cy="2371.0" r="6.8"/><circle cx="1066.8" cy="2363.0" r="6.8"/><circle cx="1122.0" cy="2373.5" r="6.8"/><circle cx="1163.0" cy="2377.2" r="6.8"/><circle cx="1024.8" cy="2385.2" r="6.8"/><circle cx="1054.5" cy="2386.0" r="6.8"/><circle cx="1068.8" cy="2385.5" r="6.8"/><circle cx="1064.5" cy="2391.0" r="6.8"/><circle cx="1294.0" cy="2387.5" r="6.8"/><circle cx="1188.8" cy="2392.0" r="6.8"/><circle cx="1178.0" cy="2391.5" r="6.8"/><circle cx="959.8" cy="2405.5" r="6.8"/><circle cx="1251.2" cy="2422.2" r="6.8"/><circle cx="1251.5" cy="2411.0" r="6.8"/><circle cx="1225.2" cy="2416.0" r="6.8"/><circle cx="1081.2" cy="2420.8" r="6.8"/><circle cx="1302.5" cy="2420.2" r="6.8"/><circle cx="1182.5" cy="2429.5" r="6.8"/><circle cx="1004.0" cy="2434.2" r="6.8"/><circle cx="1296.8" cy="2441.8" r="6.8"/><circle cx="1302.5" cy="2439.2" r="6.8"/><circle cx="1174.2" cy="2442.5" r="6.8"/><circle cx="1188.0" cy="2446.2" r="6.8"/><circle cx="1225.8" cy="2446.5" r="6.8"/><circle cx="1269.0" cy="2448.0" r="6.8"/><circle cx="953.0" cy="2447.8" r="6.8"/><circle cx="1127.2" cy="2447.2" r="6.8"/><circle cx="1140.5" cy="2452.8" r="6.8"/><circle cx="1212.8" cy="2467.8" r="6.8"/><circle cx="1201.2" cy="2474.0" r="6.8"/><circle cx="1107.5" cy="2473.0" r="6.8"/><circle cx="1264.2" cy="2487.0" r="6.8"/><circle cx="1278.5" cy="2489.2" r="6.8"/><circle cx="1266.8" cy="2501.5" r="6.8"/><circle cx="1269.5" cy="2496.0" r="6.8"/><circle cx="1110.0" cy="2504.8" r="6.8"/><circle cx="1119.0" cy="2499.2" r="6.8"/><circle cx="1057.0" cy="2520.0" r="6.8"/><circle cx="1171.5" cy="2522.8" r="6.8"/><circle cx="1286.2" cy="2526.2" r="6.8"/><circle cx="1301.2" cy="2524.2" r="6.8"/><circle cx="1116.2" cy="2587.8" r="6.8"/><circle cx="1327.5" cy="2318.0" r="6.8"/><circle cx="1523.0" cy="2307.5" r="6.8"/><circle cx="1452.0" cy="2319.8" r="6.8"/><circle cx="1419.2" cy="2326.8" r="6.8"/><circle cx="1522.8" cy="2325.0" r="6.8"/><circle cx="1504.0" cy="2329.8" r="6.8"/><circle cx="1614.0" cy="2327.8" r="6.8"/><circle cx="1592.5" cy="2331.5" r="6.8"/><circle cx="1537.8" cy="2334.0" r="6.8"/><circle cx="1355.8" cy="2341.0" r="6.8"/><circle cx="1388.5" cy="2348.2" r="6.8"/><circle cx="1537.0" cy="2349.0" r="6.8"/><circle cx="1541.2" cy="2352.8" r="6.8"/><circle cx="1550.0" cy="2357.0" r="6.8"/><circle cx="1361.2" cy="2355.5" r="6.8"/><circle cx="1354.0" cy="2359.2" r="6.8"/><circle cx="1307.5" cy="2356.8" r="6.8"/><circle cx="1442.0" cy="2364.5" r="6.8"/><circle cx="1315.5" cy="2374.0" r="6.8"/><circle cx="1398.5" cy="2375.5" r="6.8"/><circle cx="1435.5" cy="2378.8" r="6.8"/><circle cx="1371.2" cy="2389.0" r="6.8"/><circle cx="1378.0" cy="2384.2" r="6.8"/><circle cx="1454.5" cy="2395.2" r="6.8"/><circle cx="1446.2" cy="2388.5" r="6.8"/><circle cx="1437.5" cy="2401.0" r="6.8"/><circle cx="1430.5" cy="2394.2" r="6.8"/><circle cx="1431.0" cy="2404.5" r="6.8"/><circle cx="1601.2" cy="2395.5" r="6.8"/><circle cx="1476.2" cy="2402.5" r="6.8"/><circle cx="1348.8" cy="2405.0" r="6.8"/><circle cx="1590.0" cy="2411.2" r="6.8"/><circle cx="1398.8" cy="2414.8" r="6.8"/><circle cx="1403.8" cy="2412.0" r="6.8"/><circle cx="1372.5" cy="2414.8" r="6.8"/><circle cx="1386.2" cy="2418.8" r="6.8"/><circle cx="1346.2" cy="2422.8" r="6.8"/><circle cx="1341.8" cy="2430.0" r="6.8"/><circle cx="1485.8" cy="2422.8" r="6.8"/><circle cx="1435.0" cy="2426.5" r="6.8"/><circle cx="1308.8" cy="2434.8" r="6.8"/><circle cx="1531.2" cy="2440.5" r="6.8"/><circle cx="1370.0" cy="2446.0" r="6.8"/><circle cx="1367.5" cy="2447.8" r="6.8"/><circle cx="1447.2" cy="2447.5" r="6.8"/><circle cx="1542.2" cy="2450.5" r="6.8"/><circle cx="1392.5" cy="2459.8" r="6.8"/><circle cx="1381.2" cy="2472.8" r="6.8"/><circle cx="1379.5" cy="2461.8" r="6.8"/><circle cx="1344.8" cy="2464.0" r="6.8"/><circle cx="1518.2" cy="2461.8" r="6.8"/><circle cx="1444.2" cy="2466.2" r="6.8"/><circle cx="1643.5" cy="2468.0" r="6.8"/><circle cx="1410.2" cy="2476.2" r="6.8"/><circle cx="1366.2" cy="2489.2" r="6.8"/><circle cx="1416.2" cy="2492.2" r="6.8"/><circle cx="1638.0" cy="2509.0" r="6.8"/><circle cx="1305.5" cy="2520.0" r="6.8"/><circle cx="1317.0" cy="2523.8" r="6.8"/><circle cx="1396.2" cy="2529.8" r="6.8"/><circle cx="1387.0" cy="2525.0" r="6.8"/><circle cx="1438.8" cy="2537.0" r="6.8"/><circle cx="1535.8" cy="2537.8" r="6.8"/><circle cx="1347.0" cy="2549.5" r="6.8"/><circle cx="1433.5" cy="2551.0" r="6.8"/><circle cx="1531.2" cy="2550.5" r="6.8"/><circle cx="1609.0" cy="2546.2" r="6.8"/><circle cx="1409.5" cy="2572.8" r="6.8"/><circle cx="1430.0" cy="2571.2" r="6.8"/><circle cx="1361.0" cy="2575.2" r="6.8"/><circle cx="1556.2" cy="2574.8" r="6.8"/></g>
</g>
</svg></body></html>
